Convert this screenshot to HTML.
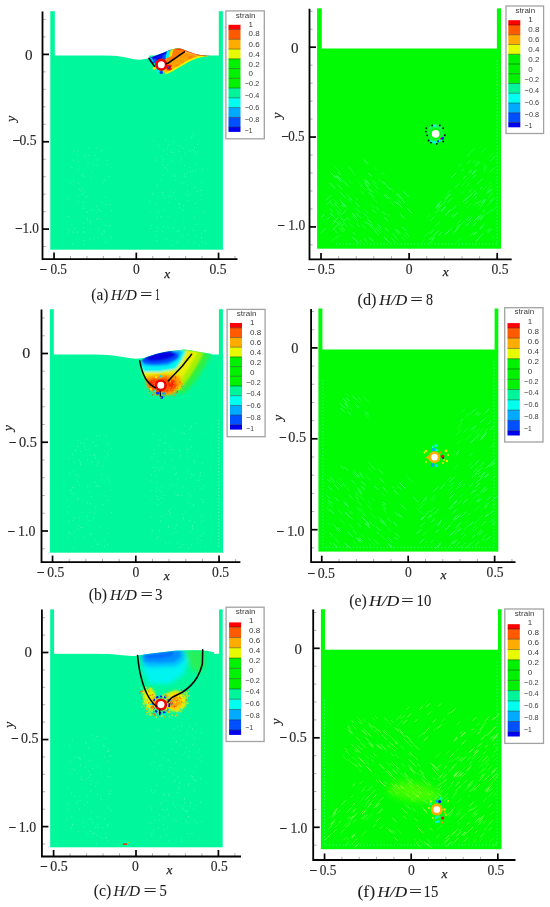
<!DOCTYPE html>
<html><head><meta charset="utf-8"><title>strain</title>
<style>
html,body{margin:0;padding:0;background:#fff;}
body{width:550px;height:907px;overflow:hidden;}
svg{display:block;}
.ax{fill:none;stroke:#000;stroke-width:1.8;}
.mj{stroke:#000;stroke-width:1.7;}
.mn{stroke:#999;stroke-width:0.8;}
.tl{font-family:"Liberation Serif",serif;font-size:13.6px;fill:#2a2a2a;stroke:#2a2a2a;stroke-width:0.15px;}
.mi{stroke-width:0.5px;}
.vl{font-family:"Liberation Serif",serif;font-style:italic;font-size:13.4px;fill:#222;stroke:#222;stroke-width:0.25px;}
.cp{font-family:"Liberation Serif",serif;font-size:16px;fill:#1c1c1c;stroke:#1c1c1c;stroke-width:0.08px;}
.cpi{font-family:"Liberation Serif",serif;font-style:italic;font-size:15px;fill:#1c1c1c;stroke:#1c1c1c;stroke-width:0.08px;}
.lb{fill:#fff;stroke:#a2a2a2;stroke-width:1.3;}
.bd{stroke:#000;stroke-opacity:0.55;stroke-width:0.7;}
.lt{font-family:"Liberation Sans",sans-serif;font-size:8px;fill:#3a3a3a;}
</style></head>
<body>
<svg width="550" height="907" viewBox="0 0 550 907">
<rect width="550" height="907" fill="#fff"/>
<rect x="50.3" y="55.5" width="172.6" height="194.2" fill="#00f79c"/>
<rect x="50.3" y="11.2" width="4.5" height="45.3" fill="#00f79c"/>
<rect x="218.8" y="11.2" width="4.1" height="45.3" fill="#00f79c"/>
<rect x="49.9" y="354.5" width="173.2" height="198.2" fill="#00f79c"/>
<rect x="49.9" y="309.2" width="3.9" height="46.3" fill="#00f79c"/>
<rect x="218.9" y="309.2" width="4" height="46.3" fill="#00f79c"/>
<rect x="50.2" y="653.8" width="172.5" height="193.5" fill="#00f79c"/>
<rect x="50.2" y="609.4" width="3.9" height="45.4" fill="#00f79c"/>
<rect x="219.1" y="609.4" width="3.6" height="45.4" fill="#00f79c"/>
<rect x="317.1" y="48.5" width="183.9" height="200.2" fill="#00fb04"/>
<rect x="317.1" y="8.4" width="4.7" height="41.1" fill="#00fb04"/>
<rect x="496.9" y="8.4" width="4.1" height="41.1" fill="#00fb04"/>
<rect x="318.4" y="349.5" width="179.9" height="202.1" fill="#00fb04"/>
<rect x="318.4" y="308.5" width="4" height="42" fill="#00fb04"/>
<rect x="494.6" y="308.5" width="3.7" height="42" fill="#00fb04"/>
<rect x="320.9" y="649.7" width="180.6" height="199.5" fill="#00fb04"/>
<rect x="320.9" y="609.2" width="4.1" height="41.5" fill="#00fb04"/>
<rect x="498" y="609.2" width="3.5" height="41.5" fill="#00fb04"/>
<g stroke="#70ffb0" stroke-width="0.8" stroke-linecap="round" fill="none"><path d="M350 223.9l3.6 3.6M346.5 194.2l3.3 3.3M397.6 199.6l3.6 3.6M381.8 172.6l2.5 2.5M390.9 202l4.5 4.5M395.2 230.6l4.1 4.1M371 204.5l3.1 3.1M362.4 225.2l3.1 3.1M352.5 172.4l2.6 2.6M395.4 237.1l3.6 3.6M370.3 189.6l2.9 2.9M348.2 218.5l2 2M374.2 167.6l1.9 1.9M360.1 240.2l2.2 2.2M358.2 182.5l3.5 3.5M335.2 167.1l4.6 4.6M343.6 222.6l3.6 3.6M399.7 197l2.9 2.9M373.1 183.9l2.6 2.6M334.9 204.2l2 2M389.9 187.8l3.3 3.3M345.1 182.8l3.5 3.5M387.3 213.5l2.6 2.6M360.8 191l3.7 3.7M403.6 234.4l3.8 3.8M347.9 199l3.3 3.3M333.6 199.7l4.6 4.6M386.5 197.1l2 2M401.7 236.9l3.6 3.6M379.2 179.6l4.7 4.7M364.3 209.4l3.3 3.3M338.2 207.7l3.1 3.1M348.7 180.2l2.3 2.3M396 194.4l4.5 4.5M372.5 198l4.5 4.5M375.4 190.1l2.7 2.7" stroke-opacity="0.35"/><path d="M338.9 227.4l4.2 4.2M338 220.8l3.3 3.3M364.6 221.6l1.8 1.8M329.7 202l4.8 4.8M356.3 213.4l4.2 4.2M336.2 209.6l4.1 4.1M343.1 180.9l4.9 4.9M385.8 238.8l3.7 3.7M360.9 186l4.5 4.5M372.3 209.3l3.7 3.7M375.8 228.4l4.3 4.3M334.2 229.6l3.2 3.2M348.6 167.1l3.8 3.8M355.5 197.9l1.8 1.8M356.9 224l2.6 2.6M364.2 238.8l2.5 2.5M352.2 237.1l4.6 4.6M375.2 231.7l3.6 3.6M337.2 213.3l2.7 2.7M329.9 208.7l3 3M354.7 238.8l4.3 4.3M364.2 180.8l2.1 2.1M342.3 202.8l2.6 2.6M377.7 227.5l2.9 2.9M355.8 208.3l4.3 4.3M334.5 203.3l3.6 3.6M365.4 180.6l4.3 4.3M392.5 233.9l4.1 4.1M365.9 184.7l2 2M375.9 186.5l2.5 2.5M335.4 175.9l4.3 4.3M391.5 238.6l4.4 4.4M384.4 195.1l3.1 3.1M372.8 228.2l3.2 3.2M376.5 207.6l2.2 2.2M370.7 223.8l2.4 2.4M385.1 194.1l4.7 4.7M405.6 232.6l3 3M372.7 180.6l3.6 3.6M339.4 199.2l3.6 3.6M363.8 213.4l4.2 4.2" stroke-opacity="0.55"/><path d="M384.3 237.4l4.1 4.1M403.6 191.8l4.7 4.7M337.9 185.2l4.1 4.1M369.4 237.6l3.4 3.4M367.9 219.5l3.1 3.1M342.2 203l4 4M341.9 227.4l2.9 2.9M365.9 180.3l3.5 3.5M367.7 188.1l3.5 3.5M377.3 224.1l3.8 3.8M382.5 211.8l2.7 2.7M402.6 200.6l2.4 2.4M340.9 217.8l2.3 2.3M369.3 192.8l4.4 4.4M394.2 201.1l2.5 2.5M330.4 213.2l4.3 4.3M341.9 205.2l2.2 2.2M395.8 229.2l4.2 4.2M400.7 214.7l3.3 3.3M337 176.9l4.8 4.8M338.2 172.5l2.5 2.5M396.9 193.3l4.8 4.8M349.7 198.1l2.1 2.1M337.3 175.8l3.7 3.7M331.2 173.2l4.3 4.3M355.6 202.8l3.6 3.6M336.9 222.4l2.8 2.8M352.8 216l4.4 4.4M353 232.2l2.2 2.2M330.3 183.6l4.6 4.6M402.3 226.9l4.1 4.1M367.5 222.7l4.7 4.7M368.5 173.2l2.8 2.8M386.6 185.8l3.7 3.7M385.3 228.1l3 3M340.4 192.6l4.8 4.8M384.5 217.4l2.9 2.9M396.9 202.2l4.9 4.9M407.1 208.2l4.8 4.8M382.7 181.3l3 3M364.1 159.8l3.8 3.8M352.3 213.2l4.1 4.1M365.3 183.5l3 3" stroke-opacity="0.75"/></g>
<g stroke="#70ffb0" stroke-width="0.8" stroke-linecap="round" fill="none"><path d="M493.6 236.1l-1.9 1.9M482.8 227l-2.6 2.6M491.3 185.5l-4.6 4.6M474 232l-4.2 4.2M486.1 169.8l-2.4 2.4M490.9 182l-2.2 2.2M424.4 239.9l-2.2 2.2M487.2 212.7l-3.3 3.3M485.9 148.1l-4.3 4.3M495.8 207.4l-4 4M472.1 170.7l-2.2 2.2M461 238.1l-4.7 4.7M478.5 160.7l-3 3M429.7 214.8l-2.5 2.5M457.1 229.8l-3.7 3.7M493.2 153.1l-4.2 4.2M475.8 159.7l-2.9 2.9M468.4 177.9l-3 3M474.6 148.4l-3.9 3.9M492 200.9l-4.4 4.4M463.8 221.5l-4.6 4.6M491.4 209.9l-4.3 4.3M464.5 183l-2.5 2.5M464.2 190.7l-2.4 2.4M450.4 190.3l-2.7 2.7M469.9 183l-3.5 3.5M482 205.7l-2.7 2.7M493.9 199l-3.4 3.4M485.4 164.3l-2.2 2.2M471.5 203.2l-4.5 4.5M486.8 186.3l-4.2 4.2M479.9 203.9l-3 3" stroke-opacity="0.35"/><path d="M467.3 201.5l-2.3 2.3M493.7 197.6l-3.2 3.2M490 228.4l-2.9 2.9M463.5 169.3l-1.8 1.8M449.1 194.5l-3.5 3.5M482.9 214.7l-4.7 4.7M482.5 178.8l-4.9 4.9M434.3 216.9l-4 4M471.1 170.2l-2.7 2.7M459.5 224.7l-2.9 2.9M476.2 192.5l-2.5 2.5M450.1 210l-4.6 4.6M453.1 214.5l-1.9 1.9M469 216.9l-2.7 2.7M480.5 215.2l-4.6 4.6M461 219.8l-3.3 3.3M472.6 188.9l-3.5 3.5M460.9 164l-2.1 2.1M450.2 210.5l-4.7 4.7M484.8 210.3l-1.8 1.8M476.4 193.4l-2.9 2.9M483.3 233.4l-4.4 4.4M439.6 209.1l-3.9 3.9M434.3 238.3l-4.9 4.9M476.7 169.9l-4.6 4.6M494.3 167.8l-4.6 4.6M480.6 200.8l-2.2 2.2M458.7 184l-4 4M476 190l-4.8 4.8M451.4 228.5l-4.7 4.7M451.8 198.3l-4.3 4.3M492.4 188.9l-4.6 4.6M479.4 162.3l-4.2 4.2M475.3 175.2l-2.6 2.6M495 156.3l-4.4 4.4M486.6 166.6l-2.9 2.9M456 205.8l-4.7 4.7M439.6 222.1l-3.8 3.8M492.4 193.3l-4 4M469.8 153.5l-2.7 2.7M434.7 236.6l-2.9 2.9M428 233.4l-2.8 2.8M491.8 228.9l-4.2 4.2M484.5 202.2l-3.5 3.5M469.9 160.8l-2.8 2.8M439.7 204l-2.8 2.8" stroke-opacity="0.55"/><path d="M470.8 221.3l-4.5 4.5M490.2 189.5l-3.6 3.6M484.2 224.2l-4.6 4.6M441.8 232.3l-2.8 2.8M484.9 199.2l-3.4 3.4M465.9 176.1l-2.4 2.4M476.4 232.1l-2.4 2.4M476.7 196.3l-1.8 1.8M432.2 236.9l-2.6 2.6M440.9 201.7l-3.8 3.8M475.5 170.6l-3.1 3.1M438.6 230.8l-4.8 4.8M482.2 187.1l-1.8 1.8M450.2 194.5l-4.7 4.7M458.8 227.4l-4.1 4.1M467.3 197.6l-4 4M476.1 222.6l-3 3M475.2 232.7l-2 2M438.6 204.9l-3 3M457.6 212.6l-4.6 4.6M477.8 201.9l-2.4 2.4M448.4 231.4l-3.5 3.5M471.7 217.3l-3.3 3.3M441.6 204.6l-4.4 4.4M485.8 199.8l-2.4 2.4M445.1 207.4l-3.3 3.3M445.3 206.6l-4.3 4.3M471.2 194.4l-4.7 4.7M455.9 173.1l-4.6 4.6M433.7 229.8l-3.3 3.3M482.8 217.1l-2.7 2.7M478.7 216.3l-4.5 4.5M478.6 238.7l-2.7 2.7M445.5 201.1l-2.1 2.1" stroke-opacity="0.75"/></g>
<g stroke="#70ffb0" stroke-width="0.8" stroke-linecap="round" fill="none"><path d="M338.7 217.1l-3 3M336.7 236.4l-4.6 4.6M340.3 235l-3.9 3.9" stroke-opacity="0.35"/><path d="M337.1 218.4l-3.7 3.7M331.7 199.7l-4.9 4.9M330.9 195.5l-4.7 4.7M325.4 228.4l-4.4 4.4M347.1 218.1l-3.5 3.5" stroke-opacity="0.55"/><path d="M330.1 216.8l-2.9 2.9M343.7 223.9l-2 2M337.5 225.1l-4.6 4.6M346.1 210.2l-4.1 4.1M324.3 214.4l-2.6 2.6M335.6 221.2l-2.7 2.7" stroke-opacity="0.75"/></g>
<g stroke="#70ffb0" stroke-width="0.8" stroke-linecap="round" fill="none"><path d="M346 393.6l3 3M355.1 398.2l4.9 4.9M345.8 406.8l2.6 2.6M364.1 397.5l4.8 4.8M364.4 414l4.3 4.3M343 399l4.4 4.4M347.9 406.4l4.6 4.6M358.3 397.7l2.8 2.8" stroke-opacity="0.35"/><path d="M343 398.4l4.5 4.5M344.9 403.4l2.7 2.7" stroke-opacity="0.55"/><path d="M340.8 408.2l3.9 3.9M346.6 398.1l2.7 2.7M348 411.8l2.8 2.8M340.1 403.4l4.9 4.9M355.7 404.7l2.9 2.9M345.1 403.2l2.4 2.4M352.5 395.9l3.2 3.2M365.5 411.9l2.7 2.7" stroke-opacity="0.75"/></g>
<g stroke="#70ffb0" stroke-width="0.8" stroke-linecap="round" fill="none"><path d="M367.5 505.4l4.4 4.4M382.5 493.7l2.1 2.1M354 470.9l4.9 4.9M339 478.1l4.9 4.9M365.6 475.2l4.8 4.8M350.5 510.9l1.8 1.8M370.9 513.2l4.8 4.8M346.8 488.1l2.3 2.3M327.9 502.2l4.4 4.4M335 537.6l3.1 3.1M335.2 539.4l3.7 3.7M359.3 507.5l3.4 3.4M372.4 542.9l2.8 2.8M355.4 491.9l2.8 2.8M362.1 535.3l2.6 2.6M338.6 510.6l3.8 3.8M340.1 519.1l3.8 3.8M390 545.1l2.3 2.3M381.7 519.5l3.5 3.5M347.3 509.5l4.8 4.8M382.5 509l3.1 3.1M374.1 486.6l2.6 2.6M369 543.4l2.5 2.5M362.2 481.3l3.3 3.3M381 535.4l4.6 4.6M349.3 524.2l3.6 3.6M326.2 507.6l3.9 3.9M368.1 501.3l2.8 2.8M360.7 496.9l3.5 3.5M330.2 479.6l4.4 4.4M368.4 462.2l4.1 4.1M372 498.5l2.4 2.4M352.6 474l3.7 3.7M357.4 490.5l3.9 3.9M355.9 494.4l2.2 2.2M368 467.4l3.9 3.9M328.9 523.4l1.9 1.9" stroke-opacity="0.35"/><path d="M368.5 538.4l2.1 2.1M327.5 479.3l2.7 2.7M388.5 537.5l2.7 2.7M353.3 541.2l2.6 2.6M371.8 466.2l2.9 2.9M349.1 495l3.5 3.5M374 539.6l4.8 4.8M359.5 537.5l2.6 2.6M332.8 524.2l4.3 4.3M329.3 542.3l2.1 2.1M359.7 492.1l2.2 2.2M366.7 522.6l2.8 2.8M352.1 480.6l3.7 3.7M353.6 472.6l4.5 4.5M357.6 523.1l3.3 3.3M358.9 490.1l2.1 2.1M361.1 481.6l3.9 3.9M344.5 503.1l3.9 3.9M348.2 515.3l4.1 4.1M359.7 474.1l4.4 4.4M344.2 466.8l3.9 3.9M330.6 477.5l4.1 4.1M326.7 495.5l2.7 2.7M352.9 530l3.8 3.8M356.4 474l3 3M387.4 543.4l3.7 3.7M379.1 517.4l3 3M357.6 501.2l4 4M387.7 538.8l3.7 3.7M346.8 545l3.3 3.3M342.6 483.9l2.3 2.3M374.9 486.1l3.5 3.5M366.3 524l1.9 1.9M383.9 508l1.8 1.8M357.3 538.9l3 3M369.4 521.6l4.6 4.6M379.9 520.2l3.1 3.1M356.9 507.5l3.4 3.4M378.5 469.3l4.6 4.6M361.5 516.7l4.1 4.1M340.9 466.2l2.5 2.5M359.8 472.2l2.5 2.5M381.7 504l3.2 3.2" stroke-opacity="0.55"/><path d="M365.7 523.6l4.3 4.3M337.1 529.4l2.2 2.2M344.8 542.9l3.5 3.5M346.4 513l1.8 1.8M357.1 487.5l3.3 3.3M336.9 481.7l4.8 4.8M356.2 497.3l1.9 1.9M357 538.5l2.1 2.1M376.3 526.7l4 4M328.4 486.5l3.5 3.5M343.9 501.7l4.2 4.2M348.1 532.2l4.5 4.5M337.2 527.3l3.6 3.6M333.4 543.6l3.3 3.3M328.8 500.5l3 3M361.8 486.6l2.7 2.7M363.1 513.8l2.2 2.2M377.1 532.2l1.8 1.8M345.1 512.7l3.3 3.3M363.7 518.9l4.8 4.8M329.9 533.2l2.5 2.5M329.6 509.4l4.1 4.1M335.2 497.7l2.8 2.8M335.1 485.6l3.6 3.6M358.6 538.5l3.5 3.5M382.7 501.9l2.8 2.8" stroke-opacity="0.75"/></g>
<g stroke="#70ffb0" stroke-width="0.8" stroke-linecap="round" fill="none"><path d="M486.9 538.6l-3.5 3.5M481.2 529.6l-3.2 3.2M478.3 520.1l-4.3 4.3M490.5 501.6l-4.4 4.4M440.1 522.3l-3 3M485.6 521.1l-1.8 1.8M477.9 493.8l-4.9 4.9M453 485.9l-4.4 4.4M479.3 475.9l-1.8 1.8M495.5 503l-3.6 3.6M430.1 515l-2.1 2.1M423.5 501.1l-4.1 4.1M467.5 521.2l-2.2 2.2M454.9 519.5l-4.3 4.3M482.6 515.2l-3.5 3.5M461.8 500.2l-3.3 3.3M495.4 476l-4 4M463 494.2l-2.5 2.5M481.9 492.1l-3.9 3.9M432.1 514.3l-3 3M472 542.8l-2.1 2.1M453.7 542.4l-4 4M452.5 532.6l-1.9 1.9M427.2 541l-1.8 1.8M479.2 506.4l-4.3 4.3M468.3 525.7l-4.7 4.7M435 495.3l-4.2 4.2M465.5 534.7l-3.8 3.8M459.1 527.2l-4.2 4.2M426.7 531.5l-4.2 4.2M475.2 539.7l-2.3 2.3M444.6 483.7l-2 2M446.1 523.2l-4.5 4.5M477.7 527.3l-4.8 4.8M426.9 499.4l-1.8 1.8M471.2 502.3l-2 2M450.5 477.3l-3.5 3.5M487.4 502.9l-3.5 3.5M436.6 522.8l-3.7 3.7M434.9 498.5l-2.5 2.5M459.3 529.9l-4.9 4.9M424.2 504l-4.5 4.5M476.4 525.4l-4.6 4.6" stroke-opacity="0.35"/><path d="M480.7 531l-3.3 3.3M465.2 543l-4.1 4.1M435 507.4l-4.3 4.3M470.1 513.4l-2 2M489 514l-2.7 2.7M460.6 484.9l-3.9 3.9M481.9 467.8l-3.7 3.7M454.1 540.5l-2.6 2.6M455.7 502l-2.2 2.2M457.9 514.9l-3.3 3.3M471.1 543.1l-4.7 4.7M473.4 482.9l-3.8 3.8M479.6 469.6l-4.1 4.1M456.9 501.3l-2.1 2.1M493.3 519.3l-2.5 2.5M483.4 475.9l-4.7 4.7M464 532.2l-2.7 2.7M441 541.8l-2 2M441.1 543.5l-3.1 3.1M478.9 541.7l-4 4M488.1 473.6l-3.9 3.9M496.5 496.6l-4 4M480.5 478.6l-3.7 3.7M493.4 462.1l-4.7 4.7M464.6 484.4l-2.2 2.2M453.2 504.3l-4.4 4.4M438.4 486.8l-1.9 1.9M484 538.2l-2.3 2.3M486.4 534.1l-2.8 2.8M459.7 542.3l-3.4 3.4M484.1 472.7l-3.9 3.9M453.5 482.2l-3.5 3.5M424.5 522.6l-4 4M482.6 531.4l-3.6 3.6M433.3 540.3l-2.5 2.5M457.4 515.2l-4.4 4.4M459.6 515.6l-2.9 2.9M477.8 468l-4.2 4.2M452.9 506.7l-2.3 2.3M485.7 521.6l-4.1 4.1M481 499.1l-2.6 2.6M469.1 525.2l-1.8 1.8M480.2 472.6l-2.1 2.1" stroke-opacity="0.55"/><path d="M479.5 483.3l-4.3 4.3M492.5 511.4l-2.4 2.4M459.6 515.4l-4 4M494.6 463l-2.9 2.9M452.2 491.7l-2.1 2.1M486.8 506.1l-2.1 2.1M454.6 531.3l-4.3 4.3M434.4 518.9l-3.2 3.2M438.5 529.8l-2.4 2.4M491 496.6l-3.3 3.3M476.4 473.4l-4.4 4.4M421.3 529.2l-4.3 4.3M431.7 515l-2.6 2.6M479.3 499.1l-2.6 2.6M475.8 490l-1.9 1.9M472.6 522.4l-2.2 2.2M438.6 509.1l-4.3 4.3M450 525.1l-4.5 4.5M454.4 493.7l-4.9 4.9M484.7 472.5l-2.5 2.5M424.3 516.2l-3.5 3.5M461 528.4l-2.5 2.5M474.9 535.2l-2.3 2.3M423.9 539l-4.2 4.2M454.4 477.1l-4.5 4.5M461 522.5l-4.9 4.9M486.8 488.8l-3.4 3.4M456.6 500.6l-2.6 2.6M462 481l-3.9 3.9M428.9 511.3l-3.3 3.3M444.4 484.8l-3.6 3.6M490.3 536.5l-2.8 2.8M465.8 512.1l-4.9 4.9M456.8 539.9l-3.7 3.7M467.5 499l-4.3 4.3M424.4 516.6l-3.3 3.3M440.6 522.5l-3 3M442 519.9l-2.6 2.6M494.5 522.8l-1.9 1.9M439.7 544.3l-4.9 4.9M485.3 487.3l-4.5 4.5M487.6 514.4l-2.2 2.2M426.6 497.2l-3.6 3.6M488.3 474.6l-2.7 2.7M474.6 490.2l-3.1 3.1M436.3 488.6l-3.1 3.1M456.2 509.7l-3.2 3.2" stroke-opacity="0.75"/></g>
<g stroke="#70ffb0" stroke-width="0.8" stroke-linecap="round" fill="none"><path d="M469.5 412.9l-3.8 3.8M464.9 409l-3.1 3.1M460.7 430.4l-4.4 4.4M493.8 444.2l-3.6 3.6M479.9 428.3l-4.9 4.9M461.8 422.9l-4.4 4.4M460.2 440.9l-2.4 2.4M477.3 408.1l-2 2M479.2 433.1l-2.7 2.7M470.8 435.1l-4.3 4.3M468 428.1l-3.9 3.9M458.4 453.8l-2.2 2.2M472.2 462.9l-3.3 3.3M482.9 428.5l-2.5 2.5M488.7 415.5l-2.7 2.7M473.1 427.2l-3.6 3.6M487.6 429l-3 3M475 429.8l-2.4 2.4M474 410.3l-3.7 3.7M459.9 427.7l-1.8 1.8M457.6 465.1l-3.4 3.4M476.7 462.6l-2.9 2.9" stroke-opacity="0.35"/><path d="M476.5 437.4l-4.2 4.2M472.4 453.1l-2.3 2.3M493.5 426.2l-3.7 3.7M474.8 438.4l-4.6 4.6M490.2 421.6l-3.1 3.1M463.1 418.8l-2.5 2.5M480.2 413.4l-2.6 2.6M479.6 434.8l-2.1 2.1M474.9 409.5l-2.1 2.1M484 462.3l-4.2 4.2M495.2 459.1l-4 4" stroke-opacity="0.55"/><path d="M488.8 409.3l-3.6 3.6M478.3 412.1l-3.1 3.1M484.1 419.1l-3.6 3.6M475.9 425.7l-3.2 3.2M472.5 466.5l-2 2M478.7 460.5l-2.8 2.8M489.4 464.8l-3.3 3.3M458.9 451.1l-2.8 2.8M483.8 436.6l-3.7 3.7M486.1 432.4l-4.5 4.5M485.9 434.1l-4 4" stroke-opacity="0.75"/></g>
<g stroke="#70ffb0" stroke-width="0.8" stroke-linecap="round" fill="none"><path d="M382.7 487.7l4.9 4.9M396.3 533.6l2.1 2.1M416.8 508.1l2.4 2.4M419.7 511.1l2.9 2.9M394.7 532.8l4.6 4.6M407.2 476.7l4.7 4.7M387.7 528.4l2.7 2.7" stroke-opacity="0.35"/><path d="M387.8 518.5l3.2 3.2M395.3 512.4l4.6 4.6M383.1 487.4l1.8 1.8M392.4 486.2l1.9 1.9M398.1 486.5l3.1 3.1" stroke-opacity="0.55"/><path d="M389.1 544l2.2 2.2M379.8 478.5l4.3 4.3M401.1 504.7l4.7 4.7M393.6 522.2l3.4 3.4M401.1 484l4.3 4.3M399.6 482.7l4.8 4.8M398.9 514l3.2 3.2M395 537.4l2.2 2.2M382.4 521.8l4 4M394.1 490.3l3.9 3.9M413.6 497.5l4.4 4.4" stroke-opacity="0.75"/></g>
<g stroke="#c0ff80" stroke-width="0.8" stroke-linecap="round" fill="none"><path d="M343.3 756.4l4.6 4.6M362.3 730.7l4.3 4.3M390.8 763.5l3.5 3.5M383 747.1l3.8 3.8M414 745.4l3.7 3.7M359.5 722.1l2.2 2.2M370.8 755.4l2.7 2.7M415.3 745.3l4.6 4.6M386.9 762.5l3 3M395.8 765.8l2.6 2.6M350 731.8l2.2 2.2M413.2 774.2l1.9 1.9M421.3 778l3.8 3.8M401.7 773.5l3.1 3.1M395 754.1l4 4M407.7 752.9l2.2 2.2M392.7 744.5l3.8 3.8M431.1 791.2l4.7 4.7M401.4 763.3l3.2 3.2M347.8 724.7l2.3 2.3M429.8 762.6l4.3 4.3M388.5 790.6l3.9 3.9M417.9 773.2l2.1 2.1M374.4 730.3l4.9 4.9M410.7 741.2l3 3M413.5 770.5l3.2 3.2M387.8 722.1l2.8 2.8M392.3 778.9l2 2M419.3 770.4l3.1 3.1M373.1 718l2.6 2.6M435 798.5l4.9 4.9M352.7 757.1l4 4M348.5 759.4l4 4M410.3 782l2.3 2.3M352.6 763l2.7 2.7M346.8 729.2l4.4 4.4M427.9 782.7l3.2 3.2M357.8 717.8l4.7 4.7M358.8 769.2l2.6 2.6M437.7 778.5l2.4 2.4M400.9 745.9l3.2 3.2M365.6 760.9l3.8 3.8M376 744.9l2.7 2.7M368.2 724.8l4.4 4.4M357.4 720.3l3.4 3.4M388.8 734.7l2.9 2.9M397 770.1l3.8 3.8M365.1 754.9l3.5 3.5M406 778.8l4.5 4.5M363.2 719.5l2.5 2.5M428.2 782.1l2.6 2.6M405.2 776.1l2.2 2.2" stroke-opacity="0.35"/><path d="M410.4 778.6l2.3 2.3M408.1 783.1l4.6 4.6M416.9 795.2l3 3M428.2 792.8l1.9 1.9M433.3 778l1.9 1.9M396.6 767.3l2.2 2.2M392.6 762.6l4 4M384.6 730.3l3.2 3.2M371.1 759.2l1.9 1.9M380.8 744.4l4.5 4.5M356.2 737l4 4M418.8 790.7l2.4 2.4M437.6 788.4l2.1 2.1M401.5 731.5l2 2M360.3 742.4l4.9 4.9M346.3 751.3l3.1 3.1M389.5 742l4.4 4.4M384.5 717.9l2.7 2.7M375.3 716.4l2.1 2.1M429.2 798.7l2 2M362 730.4l4.9 4.9M391.9 783.9l3.1 3.1M409.3 744.1l2.6 2.6M376.3 780.5l2.2 2.2M363.6 728.9l3.9 3.9M377.2 745.1l3 3M352.6 725.6l3.6 3.6M398 728.4l4.4 4.4M357 744.9l4.8 4.8M366.7 766.6l4.8 4.8M382 734.9l4.8 4.8M417.4 795.3l2.1 2.1M384.3 781.7l1.9 1.9M421.7 774l2.5 2.5M377.2 744.4l4.9 4.9M392.6 738.4l4.5 4.5M404.2 739.2l3.9 3.9M433 766.2l4.9 4.9M412.6 791.8l4.8 4.8M373.8 726.4l4 4M409.5 740l3.3 3.3M401.8 786.2l2 2M417.1 791.2l2.7 2.7M413.9 756.1l3.5 3.5M435.2 772.2l3.3 3.3M351.4 744.2l3.2 3.2M408.9 766.8l3.8 3.8M408.9 765.1l3.3 3.3M392.2 788.3l4.8 4.8M344.9 748.3l1.8 1.8M407.7 778.9l4.4 4.4M419.8 770.1l3.5 3.5M424 781.2l4 4" stroke-opacity="0.55"/><path d="M387.9 745.6l2.2 2.2M424.9 800.8l1.8 1.8M414.1 764.6l1.9 1.9M358.3 756.9l4.1 4.1M378.5 730.3l2.4 2.4M417.5 785.4l3.4 3.4M417.9 763.7l2 2M349.3 729.9l3 3M355.1 749.9l2.2 2.2M406.2 735.7l3.7 3.7M391 720.3l1.9 1.9M437.6 792.9l3.5 3.5M392.9 769.5l4.3 4.3M409.8 752.5l3.3 3.3M351.9 720.7l1.8 1.8M366.6 766.4l4.8 4.8M394.7 727.5l4 4M434 765.4l4.8 4.8M395.6 742.3l1.8 1.8M383 731.1l4.1 4.1M391.8 754.2l1.8 1.8M379.7 764.3l4.5 4.5M369.3 723.8l3.2 3.2M369.7 742.2l3.6 3.6M368.1 733.4l3.3 3.3M360.3 759l4.7 4.7M381.9 782.9l3.2 3.2M347.9 727l2.2 2.2M410.4 769.1l4.3 4.3M378.9 780.1l4.6 4.6M356.2 748.6l4.1 4.1M423.4 776.6l2.9 2.9M411.4 798.7l2 2M358.2 763.7l3.1 3.1M406.5 794l2.9 2.9M392.8 748.9l2.3 2.3M373.4 753.2l2.7 2.7M400.7 732.5l4 4M355.1 764.5l2.4 2.4M388.3 771.1l3.3 3.3M408.9 759.4l4.8 4.8M391.8 775.8l3.2 3.2M365.6 737.9l3 3M400.5 785.7l3 3M404.6 773.3l3.5 3.5M432.8 768.9l2.6 2.6M395.3 784.6l3.9 3.9M386.6 771.7l4.1 4.1M368.9 743.2l4.3 4.3M431.8 763.6l2.3 2.3" stroke-opacity="0.75"/></g>
<g stroke="#c0ff80" stroke-width="0.8" stroke-linecap="round" fill="none"><path d="M470.1 767.7l-3.6 3.6M462.3 776.5l-2.7 2.7M481.5 758.8l-3.1 3.1M451.9 759l-3.2 3.2M495.9 793.2l-1.9 1.9M493.1 781.8l-4.2 4.2M452.6 784l-3.2 3.2M475.4 753.8l-3.4 3.4M486.5 798.4l-3.5 3.5M484.2 768.7l-4.9 4.9M495 768.5l-3.1 3.1M477.3 729.5l-3.4 3.4M449.8 750.6l-3.9 3.9M487.1 827.3l-3.2 3.2M469.5 795.3l-1.8 1.8M472.5 783.3l-4.9 4.9M497.7 748.3l-3.9 3.9M443.8 789.7l-3.1 3.1M445.5 813.3l-4.3 4.3M454.9 758.7l-3.1 3.1M479.8 817.8l-3.1 3.1M496.7 842.9l-4.1 4.1M438.8 815.6l-4.7 4.7M482.6 838.5l-2.8 2.8M489.4 763.4l-3.7 3.7M495.5 779.2l-3 3M469.2 822.7l-2.7 2.7M457.5 813.3l-2 2M494 755l-1.9 1.9M474.5 807.2l-3.5 3.5M476.1 839.7l-3 3M492 788.8l-2.7 2.7M460 822.6l-2.3 2.3M456.5 793.3l-4.9 4.9M482.1 727.7l-2.2 2.2M461 798.8l-3.8 3.8M456.6 772.1l-2.8 2.8M442 825.1l-4.4 4.4M489.5 760.2l-3.9 3.9M457.4 773.6l-2.6 2.6M485.3 768.2l-2.3 2.3M483.2 763.6l-4 4M440.3 798.4l-3.2 3.2M465.9 813.7l-4.6 4.6M458.4 748.9l-2.3 2.3M492.2 765.6l-4.9 4.9M469.2 786.2l-4.6 4.6M458.5 774.7l-2.5 2.5M468.8 822.7l-1.9 1.9M459.3 812.9l-2.3 2.3M470.3 784.2l-2.8 2.8M460.9 812.7l-4.2 4.2M493.4 791.7l-4.9 4.9M489.3 758.1l-4.4 4.4M491.7 787.7l-4.7 4.7M465.7 766.8l-3.4 3.4M484.2 832.8l-2.2 2.2M493.5 811.5l-3.2 3.2M493.2 838.5l-3.7 3.7M471.6 765l-3.3 3.3M475.9 813l-3.8 3.8M461.3 808.9l-3.4 3.4M439.6 834.6l-3.7 3.7M443.1 782l-3.5 3.5M496 758.5l-2 2M475.9 755.5l-3.7 3.7M448.8 788.1l-3.8 3.8" stroke-opacity="0.35"/><path d="M495.9 743l-1.9 1.9M483.5 774.9l-2.9 2.9M445.9 784.1l-1.9 1.9M465.4 732.3l-3.9 3.9M440.5 783.1l-2.9 2.9M464.4 732.6l-3.2 3.2M498.1 775.4l-3.2 3.2M483.3 834.2l-2.9 2.9M466.9 780.1l-4.1 4.1M456.3 763.6l-4.3 4.3M482.4 820.8l-4.1 4.1M475.8 785.1l-2.6 2.6M438.7 816l-1.8 1.8M454.5 807.7l-3.3 3.3M456.3 791.9l-2.5 2.5M475 788.5l-1.9 1.9M483.9 725.6l-4.3 4.3M485.5 722.2l-3.2 3.2M461.4 773.5l-3.2 3.2M498.3 733.3l-4.4 4.4M465.1 732.4l-4.3 4.3M496.6 736.7l-4.7 4.7M452.4 813l-3.5 3.5M492.4 820.5l-4.2 4.2M479.4 723.1l-2 2M477.6 809.9l-4.1 4.1M494.8 770.9l-3.9 3.9M459.3 756.4l-2.8 2.8M462 828.5l-2 2M461.5 771.7l-3.6 3.6M478.5 750.1l-3.9 3.9M443 773.5l-3.6 3.6M485.9 751.4l-2.5 2.5M497.1 773.3l-4.2 4.2M453.7 766.9l-4.5 4.5M471 750.5l-1.9 1.9M476.3 806.3l-3.3 3.3M442.3 775.2l-3 3M447.6 797.6l-2.3 2.3M491.8 827.4l-2.8 2.8M485.1 773.4l-3 3M479.5 756.3l-2.7 2.7M448.8 844l-2.7 2.7M456.8 772.7l-3.1 3.1M462.1 817.2l-4.7 4.7M470.1 757.6l-3.2 3.2M447.7 793.6l-3.5 3.5M486 820.7l-2.5 2.5" stroke-opacity="0.55"/><path d="M471.7 761.8l-2.7 2.7M441.5 786.5l-3 3M494 776.1l-4.6 4.6M466.9 832.3l-3.4 3.4M491.7 804l-3.1 3.1M473.4 802.2l-3.8 3.8M496.7 768.1l-4.5 4.5M478.3 750.9l-4.8 4.8M473.1 827l-4.5 4.5M474.1 747.9l-4 4M465 832.1l-3.1 3.1M488.2 789.7l-2 2M471.3 808.9l-2.7 2.7M454 753.1l-4.1 4.1M460.7 785.9l-4.9 4.9M488.5 787.2l-3.4 3.4M499.3 713.8l-4.7 4.7M494.3 735.2l-3.8 3.8M461 831.6l-4.6 4.6M494.8 717.5l-2.3 2.3M470.7 766.7l-3.4 3.4M495.4 726.8l-2.1 2.1M455 831.7l-3.7 3.7M438.1 795.7l-3.3 3.3M497.2 735l-4.5 4.5M472.7 788.8l-3.1 3.1M477.1 813.7l-2.3 2.3M459.1 771.2l-4.8 4.8M461.9 731.6l-2 2M479.4 817.9l-4.3 4.3M449.1 835.3l-3.4 3.4M463.6 772.6l-3.2 3.2M440.6 764.8l-2.3 2.3M464.9 773.9l-1.9 1.9M465.6 756.9l-4.8 4.8M457.8 829l-4.8 4.8M494.5 727.8l-3.2 3.2M453.4 781.8l-1.9 1.9M484.3 815.1l-4.7 4.7M446.6 774.2l-3.6 3.6M446.3 779.4l-3.3 3.3M458.3 838.1l-4.9 4.9M480.7 730.9l-3.7 3.7M457.2 738.4l-2.8 2.8M467.3 838.2l-3.4 3.4M452.6 810.1l-4.7 4.7M482.4 777.6l-2.9 2.9M472.6 781l-4.4 4.4M462 757.6l-3.1 3.1M477 831l-2.1 2.1M448.9 838.5l-4.6 4.6M489.2 775.6l-4.6 4.6M487.2 745.4l-2 2M491.9 785.1l-4 4M446.6 766.2l-2.5 2.5M482.7 818.1l-4.3 4.3M489 717.1l-3.9 3.9M485.4 735.3l-4.1 4.1M466 740.2l-4.6 4.6M487.1 756.7l-4.6 4.6M475.8 717.6l-3.2 3.2M459.6 781.7l-4.1 4.1M476.8 750l-2.2 2.2M479.5 784.5l-4.8 4.8M491.4 731l-4.6 4.6M473.8 728.3l-1.9 1.9M451.6 841.9l-2 2M481.7 742.9l-4.3 4.3M456.4 774.8l-2.7 2.7" stroke-opacity="0.75"/></g>
<g stroke="#c0ff80" stroke-width="0.8" stroke-linecap="round" fill="none"><path d="M330.8 816.1l-2.1 2.1M349 841.5l-4.2 4.2M366.2 786.1l-3.1 3.1M351.4 820l-2.8 2.8M379.8 818.3l-3.1 3.1M358.3 812l-4.7 4.7M365.4 796.2l-4.7 4.7M368.5 817.5l-2.2 2.2M366.7 804.1l-1.8 1.8M346.4 823.6l-2.4 2.4M380.8 799.6l-3.9 3.9M366.2 831l-4.2 4.2M348.9 838.2l-1.9 1.9M376.4 794.6l-2.2 2.2M340.5 810.2l-2.3 2.3M372 814.4l-1.9 1.9" stroke-opacity="0.35"/><path d="M356.1 814.6l-4.7 4.7M356.3 819.3l-2.4 2.4M375.1 824.8l-1.9 1.9M380.3 817.5l-4.2 4.2M369.6 799.6l-2.5 2.5M382.3 808.6l-4.9 4.9M336.6 825.8l-1.8 1.8M375.2 790l-3.5 3.5M359.1 842.9l-4.2 4.2M346.6 837.2l-2.4 2.4M362 781.7l-2.2 2.2M344.1 829.6l-2.8 2.8M340.8 821.1l-1.8 1.8M351.6 807.5l-4.8 4.8M365.8 814.6l-4 4M352.4 795.5l-1.9 1.9M350.1 816.7l-2.2 2.2M382.1 809.9l-2.9 2.9M366.3 809.8l-4.1 4.1M372.4 786.1l-4.8 4.8M350.4 822.9l-4.6 4.6M335 819.7l-4.9 4.9M336.4 829.5l-3.9 3.9M373.3 800.2l-4.7 4.7M380 803.6l-3.6 3.6M383.3 797.1l-2.3 2.3M357.1 838.9l-4.4 4.4M332.2 825l-3.6 3.6M366.9 815.3l-3.8 3.8M336.1 813.4l-3.8 3.8M382.2 826.6l-2.2 2.2" stroke-opacity="0.55"/><path d="M354.9 835.2l-2.4 2.4M364 789.5l-1.8 1.8M354.8 833.9l-3.4 3.4M334.4 821.7l-3.1 3.1M378.7 803.1l-4.8 4.8M353.1 816.2l-2.4 2.4M330.5 834.6l-4.9 4.9M375.8 795.3l-2.4 2.4M335.5 812.5l-2.6 2.6M370.4 794.8l-4.4 4.4M337.1 809.7l-3.8 3.8M337.3 808.3l-2.8 2.8M354.8 803.3l-1.9 1.9M371.6 803.6l-4.1 4.1M355.8 808.8l-3.5 3.5M363.5 810.5l-2.5 2.5M365.1 811.2l-2.8 2.8M354.7 784l-1.9 1.9M345.5 800.8l-4 4M357.7 844.7l-2.3 2.3" stroke-opacity="0.75"/></g>
<g stroke="#c0ff80" stroke-width="0.8" stroke-linecap="round" fill="none"><path d="M427.3 737.5l-3.9 3.9M444.9 718.7l-3.1 3.1M437.2 727.1l-3 3M402.5 720.6l-4.5 4.5M440.5 752.8l-4.8 4.8M422.8 733l-4.6 4.6" stroke-opacity="0.35"/><path d="M460 721.8l-2.8 2.8M430.7 711.8l-3.1 3.1M450 712.2l-2 2M404.4 715.3l-3.3 3.3M401.1 715.2l-4.5 4.5M408.8 707.1l-2.4 2.4" stroke-opacity="0.55"/><path d="M427.6 737l-3.2 3.2M417.5 719.2l-2.4 2.4M422.4 706.7l-2.8 2.8M430 703.2l-3.7 3.7M440.7 703.8l-2.4 2.4M406.7 720.1l-3.4 3.4M425.7 731.8l-2.3 2.3M455.3 708.6l-4.3 4.3M457 737.1l-2.5 2.5M429.1 727.9l-2.9 2.9M441.6 724.6l-4.3 4.3M411.2 713.3l-3.9 3.9M435.8 719.4l-2.9 2.9" stroke-opacity="0.75"/></g>
<g stroke="#c0ff80" stroke-width="0.8" stroke-linecap="round" fill="none"><path d="M397.3 829.5l3.9 3.9M405.1 804.4l3.3 3.3M414.1 838.8l4 4M419.1 839.5l4 4M415.9 825l2.3 2.3M393 830.4l2.1 2.1" stroke-opacity="0.35"/><path d="M412.9 808.5l2.7 2.7M389.5 829l4.9 4.9M427.4 839.6l2.6 2.6M423.8 841.5l4.3 4.3M414.6 818.3l2.9 2.9M403.3 815.8l2.6 2.6M386.6 827.6l4.8 4.8M430 828.3l2.3 2.3M423.4 809.5l4.2 4.2" stroke-opacity="0.55"/><path d="M418.6 828.4l4.5 4.5M402.3 808.5l4.6 4.6M418.7 828.7l2.9 2.9M426.9 843.4l4 4M417 843.8l3.2 3.2M408.2 806.9l2.4 2.4M431 808.7l3.4 3.4M394.7 837.8l3 3M422.9 807.9l3.7 3.7M392.4 817.9l3.7 3.7" stroke-opacity="0.75"/></g>
<path d="M101.5 150.1h0.01M78.3 196.4h0.01M68.4 216.6h0.01M98.5 228.9h0.01M83.8 244.3h0.01M107.1 164.4h0.01M74.7 229h0.01M98 237.7h0.01M68.6 198.7h0.01M84.2 192.1h0.01M98.6 209.6h0.01M72.7 232h0.01M96.3 219.4h0.01M93.3 210.2h0.01M110 225.6h0.01M87.9 162.8h0.01M77.2 155.2h0.01M89.6 148.4h0.01M88.9 155.3h0.01M104.5 179.9h0.01M104.2 232h0.01M105.4 242.2h0.01M87.8 212h0.01M93.9 238.2h0.01M83.8 208.5h0.01M101.4 211.5h0.01M109 176.5h0.01M78.3 161.2h0.01M83.1 202.5h0.01M83.2 227.8h0.01M74.1 232.8h0.01M103.2 182.2h0.01M80.7 190.9h0.01M72.7 244h0.01M73.1 160.3h0.01M91.7 209.7h0.01M78.3 150.7h0.01M97.5 165.1h0.01M82.5 175.1h0.01M90.9 178h0.01M78.5 183h0.01M100.9 219.3h0.01M109.1 226h0.01M85.9 154h0.01M91.2 171.9h0.01M111.3 210.7h0.01M78 201.5h0.01M110.7 236.5h0.01M97 212.7h0.01M102.3 234.9h0.01M70.4 183h0.01M71.9 167.6h0.01M83.4 194.4h0.01M86.4 212.4h0.01M93.8 164.8h0.01M83.7 232.3h0.01M87 218.6h0.01M111.2 238.3h0.01M84.7 240.7h0.01M71.9 224.3h0.01M83.2 176.4h0.01M89.5 239h0.01M90.5 220.7h0.01M77.7 232.8h0.01M73.3 180.7h0.01M107 160.5h0.01M104.1 230.8h0.01M83.9 223.8h0.01M99.4 210.9h0.01M105.4 197.1h0.01M96.7 206.6h0.01M110.7 204.6h0.01M67.8 233.6h0.01M83.2 208.2h0.01M90.3 229.3h0.01M83.8 206.1h0.01M86.9 196.5h0.01M87.4 219.6h0.01M84.4 156.7h0.01M96.2 147.7h0.01M101.8 233.7h0.01M81.8 194.5h0.01M102 202.3h0.01M106.2 204.6h0.01M78 170h0.01M79.7 189.3h0.01M74.2 151.3h0.01M97.3 159.7h0.01M98.3 218.6h0.01M82.5 189h0.01M83.5 231.7h0.01M105.2 225.4h0.01M68.3 230h0.01M95.2 155.7h0.01M85.9 197.3h0.01M83.2 215.8h0.01M90.3 222.6h0.01M111.8 166.9h0.01M77.1 232h0.01" stroke="#d0fff0" stroke-width="1" stroke-linecap="round" stroke-opacity="0.35" fill="none"/>
<path d="M193.5 150.6h0.01M163.6 195.1h0.01M187.7 234.4h0.01M171.8 161.1h0.01M168.2 216.1h0.01M195.2 151.4h0.01M190.4 171.7h0.01M161 216.6h0.01M162.7 192.7h0.01M163.2 161.3h0.01M157.6 227.9h0.01M194.3 217.3h0.01M186.6 194.1h0.01M179.1 203.8h0.01M173.4 141.6h0.01M164.5 167.6h0.01M184.3 227.8h0.01M175.1 176.2h0.01M168.9 196.9h0.01M187.9 191h0.01M163.4 226.5h0.01M183.6 205.7h0.01M166.4 168.2h0.01M183.2 210.3h0.01M150.3 211.6h0.01M175.3 180.2h0.01M178.5 151h0.01M180.5 146h0.01M188.2 241.8h0.01M184.4 174.3h0.01M195.4 235.6h0.01M195.4 203.5h0.01M167.9 164.9h0.01M163.6 210.2h0.01M166.1 239.2h0.01M182.9 148.2h0.01M187.8 200.6h0.01M152.6 194.1h0.01M192.8 136.1h0.01M205.2 231h0.01M171.5 245.3h0.01M149.7 201h0.01M163 192.1h0.01M162.8 165h0.01M155.3 160.7h0.01M173.9 152.8h0.01M150.1 228.5h0.01M176.9 242.2h0.01M179.4 207.7h0.01M171.3 149.9h0.01M157.3 185h0.01M195.6 164.7h0.01M165.6 140.2h0.01M205.7 243.9h0.01M189 195.4h0.01M156.1 231.4h0.01M179.4 204.6h0.01M163.9 150.3h0.01M167.8 148.6h0.01M183.8 182.2h0.01M157 217.1h0.01M196.9 208h0.01M168.1 227.9h0.01M196.6 153.8h0.01M189.7 151.4h0.01M173.2 227.4h0.01M200.2 190.4h0.01M156.8 186.8h0.01M155.4 235.9h0.01M194.3 243h0.01M171.5 196h0.01M154.1 141h0.01M187.3 185h0.01M179.1 162h0.01M158.9 145.5h0.01M192.7 171.2h0.01M191.4 137.5h0.01M181.4 183.2h0.01M174.2 155.1h0.01M182 236h0.01M194.5 187.7h0.01M177.6 231.5h0.01M197.8 144.6h0.01M158.2 212.5h0.01M201.1 199.9h0.01M161.5 180.7h0.01M200.1 195.4h0.01M171.8 152.7h0.01M162.2 231.2h0.01M197 191.5h0.01M167.3 170.7h0.01M193.1 132.9h0.01M168.4 144.9h0.01M163.9 159.3h0.01M170.8 191.8h0.01M151.4 225.7h0.01M201.2 190.2h0.01M156.3 158.4h0.01M161.5 156.6h0.01M201.5 237.7h0.01M202.5 170.1h0.01M194.5 147.5h0.01M177.8 145.3h0.01M179 231h0.01M156.7 204h0.01M187.6 172.3h0.01M184.7 165.8h0.01M199.3 245.7h0.01M175.2 198.8h0.01M174.1 175h0.01M169.2 202.4h0.01M163 175.1h0.01M185 153.5h0.01M173.7 192.8h0.01M185 176.6h0.01M164.7 198h0.01M204.6 212.7h0.01M192.1 150.1h0.01M201.6 233.2h0.01M201.5 182.2h0.01M193.2 230.3h0.01M195.9 224.4h0.01M189.4 167.1h0.01M195.7 170.4h0.01M167.7 154.3h0.01M183.9 221.1h0.01M204.7 230.5h0.01M181.3 158.4h0.01M157 240.5h0.01M170.2 152h0.01M202.3 242.2h0.01" stroke="#d0fff0" stroke-width="1" stroke-linecap="round" stroke-opacity="0.35" fill="none"/>
<path d="M78.5 446.4h0.01M73.1 455.4h0.01M80.7 527.4h0.01M106.9 452.5h0.01M74.9 538.1h0.01M108.1 478.2h0.01M108.3 455.1h0.01M99.7 527h0.01M77.4 481.4h0.01M75.5 450.1h0.01M108.2 533.4h0.01M95.4 482.3h0.01M91.4 496.7h0.01M67.4 512.1h0.01M80.7 464.6h0.01M107.8 500.6h0.01M84.7 537.4h0.01M67.1 499.8h0.01M96.3 485.4h0.01M98.4 462.5h0.01M90.4 503.8h0.01M69.9 490.7h0.01M90 455.1h0.01M105.5 457.6h0.01M79.4 460h0.01M99.6 486.5h0.01M101.2 495.9h0.01M84.6 446.2h0.01M72.8 487.3h0.01M73 520.5h0.01M111 448.7h0.01M108.4 444.2h0.01M90.1 535.1h0.01M89 449.6h0.01M104.8 450.9h0.01M86.1 449.4h0.01M97.2 445.6h0.01M102.5 465.9h0.01M87.2 516.5h0.01M101.6 474.8h0.01M111.5 512.4h0.01M80.2 442.9h0.01M78.1 528.9h0.01M74 547.2h0.01M74.2 518h0.01M80.5 451.2h0.01M69.1 458.3h0.01M80.3 462.9h0.01M93.5 442.8h0.01M106.1 435.6h0.01M74.8 531.4h0.01M106.1 496h0.01M70.3 533.9h0.01M95.6 507.4h0.01M87.7 486.6h0.01M69.4 532.1h0.01M71.8 493.3h0.01M87.8 459.6h0.01M94.2 455h0.01M90 533.8h0.01M107.7 544.3h0.01M97.9 486.8h0.01M98.1 543.8h0.01M69.4 473.2h0.01M93.5 518.8h0.01M92 462.5h0.01M68 537.6h0.01M91.4 534.1h0.01M94.2 455.1h0.01M92.1 546.6h0.01M79.4 485.3h0.01M72.1 453.3h0.01M71.2 490h0.01M77.8 440.4h0.01M79 517.7h0.01M77.7 498.7h0.01M96.7 435.9h0.01M97.5 544.5h0.01M74.1 493.4h0.01M109.4 482.1h0.01M110.9 490.1h0.01M94.6 513.2h0.01M86.8 439.3h0.01M82.9 512.1h0.01M75.2 450.7h0.01M68.7 533.4h0.01M87.3 503h0.01M97 465.2h0.01M89.9 512.4h0.01M95.1 445.9h0.01M69 521.4h0.01M102.9 504.5h0.01M104.5 546.6h0.01M82.6 527.6h0.01M69.2 506.4h0.01M78.6 499.4h0.01M73.5 470.9h0.01M107.2 454.7h0.01M89.6 520.5h0.01M104.2 540.8h0.01M95.7 458.7h0.01M72 486.9h0.01M75.3 474.7h0.01M95.5 457.2h0.01M99.4 435.3h0.01M89.8 492.8h0.01M95.1 540.4h0.01M74.3 487.2h0.01M74.6 462h0.01M78.2 525.6h0.01M83.8 443h0.01M78.4 476h0.01" stroke="#d0fff0" stroke-width="1" stroke-linecap="round" stroke-opacity="0.35" fill="none"/>
<path d="M204.1 520.3h0.01M201.6 521.4h0.01M157.1 488.3h0.01M159.6 490h0.01M168.6 527.3h0.01M171 517h0.01M185 512h0.01M157.7 504.6h0.01M196.2 480.1h0.01M158.6 499.4h0.01M191.4 544.8h0.01M197.9 486h0.01M169.3 542.2h0.01M193.9 475.8h0.01M201.5 488.3h0.01M178.5 495.6h0.01M184.4 425.7h0.01M188.4 502.9h0.01M175.4 474.5h0.01M182.2 495.3h0.01M151.2 490.8h0.01M165.6 453.1h0.01M163.1 498.9h0.01M179.8 450.5h0.01M187.7 452.3h0.01M160 440h0.01M174 429.9h0.01M202.3 463.7h0.01M172.6 449.9h0.01M182 433.1h0.01M193.5 505.7h0.01M165.1 463h0.01M187.1 458h0.01M157.1 483.2h0.01M153 467h0.01M177.4 543h0.01M191 427.2h0.01M161.7 486.6h0.01M152.1 529.9h0.01M160.8 516.8h0.01M170.1 449.6h0.01M182.7 486.7h0.01M155.6 467.7h0.01M199 480.4h0.01M191.9 427.4h0.01M158.4 445.2h0.01M176.4 525h0.01M188.3 548.3h0.01M189.8 439.7h0.01M174.9 528.3h0.01M185.6 479.9h0.01M171.9 485.1h0.01M170.1 509.4h0.01M197.7 455.8h0.01M168.7 526h0.01M202.2 432.1h0.01M188.4 449.6h0.01M200.9 536h0.01M161.7 502.9h0.01M151.8 457.7h0.01M159.5 530.3h0.01M151.6 474.9h0.01M164.2 452.8h0.01M195.7 423.4h0.01M165.8 543.1h0.01M188.7 494h0.01M165.1 443.1h0.01M194.5 462.7h0.01M182.8 544.7h0.01M194 460.5h0.01M161 497.8h0.01M190.9 496h0.01M178.1 495.1h0.01M183.1 519.2h0.01M163.9 517.1h0.01M150.7 499.1h0.01M191.5 447h0.01M154 453.4h0.01M169.3 514.1h0.01M150.8 481.2h0.01M168.5 511.2h0.01M156.7 538.5h0.01M180.5 455.3h0.01M171.8 533.6h0.01M183.4 517.9h0.01M201.2 540.3h0.01M154.1 471.5h0.01M156.5 491.3h0.01M203 501.4h0.01M199.1 477.9h0.01M165.4 449.6h0.01M200.4 472.5h0.01M162.6 468.8h0.01M177.8 478.9h0.01M197.5 538.6h0.01M158.1 536.7h0.01M203.5 485.8h0.01M154.1 449.4h0.01M151 517.2h0.01M166.6 514.3h0.01M189.7 520.5h0.01M186.4 449.5h0.01M180.7 547.5h0.01M184.2 433.5h0.01M175 492.6h0.01M165.1 436.4h0.01M174.8 532.3h0.01M205.7 546.3h0.01M193.4 504.9h0.01M164.3 443.3h0.01M180.1 457.6h0.01M153.1 434h0.01M192.6 525.6h0.01M192.6 528.7h0.01M190.7 531.3h0.01M157.2 496.2h0.01M194.7 489.7h0.01M155.3 475.7h0.01M176.5 472.8h0.01M191.7 425.9h0.01M176 485h0.01M182.1 514.6h0.01M157.8 461.6h0.01M193.4 474.6h0.01M190.5 477.8h0.01M194.5 522.2h0.01M152.1 531.3h0.01M200.2 475.1h0.01M158.1 468.1h0.01M203.2 532.8h0.01M169.7 446h0.01M187.7 470h0.01M170.5 512.9h0.01M160.6 520.8h0.01M203.1 502.7h0.01M174.2 468.3h0.01M171.8 460h0.01M192.5 527h0.01M201.9 516.1h0.01M159 470.4h0.01M176.1 494.8h0.01M191.5 474.2h0.01M164.1 495.4h0.01M177.1 531.3h0.01M201.5 499.4h0.01M189.6 429.2h0.01M160.9 491.7h0.01" stroke="#d0fff0" stroke-width="1" stroke-linecap="round" stroke-opacity="0.35" fill="none"/>
<path d="M80 800.4h0.01M110.5 791.1h0.01M88.4 748.3h0.01M79.2 757.9h0.01M87.5 802.4h0.01M94.1 739.8h0.01M83 822.1h0.01M88.9 777.5h0.01M107.9 824.7h0.01M76.8 803.6h0.01M95.5 827.1h0.01M87.8 834.1h0.01M84.2 805.1h0.01M91.2 760.1h0.01M108.4 751.5h0.01M79.8 796.1h0.01M91 780.3h0.01M105.8 833.1h0.01M94.3 833h0.01M79.7 758.4h0.01M75.1 796.8h0.01M74.5 757h0.01M96.8 736.4h0.01M91.4 819.4h0.01M109.2 793.4h0.01M104.7 818.9h0.01M92.4 833.5h0.01M85.3 742.3h0.01M90.4 784.2h0.01M101.1 799.2h0.01M91.2 735.7h0.01M98.2 736h0.01M72.3 740.8h0.01M108.6 807.9h0.01M70.6 762h0.01M106.6 837.3h0.01M85.6 766.8h0.01M71.5 793.4h0.01M88.2 760.9h0.01M69.8 773.1h0.01M108.1 840.7h0.01M97.5 824.4h0.01M110 794h0.01M90.4 774.9h0.01M98 816.6h0.01M77.6 757.7h0.01M107.4 824.7h0.01M92.7 822.2h0.01M86.5 779h0.01M83.5 826.9h0.01M72.4 824.2h0.01M71.5 828.2h0.01M101.3 837.4h0.01M80.5 759.1h0.01M108.6 750.2h0.01M101.2 773.6h0.01M90.7 791h0.01M72.1 769h0.01M84.1 754.9h0.01M107.1 751.7h0.01M111.1 755.9h0.01M110.2 776.5h0.01M109.8 756.2h0.01M107.4 776.6h0.01M107.7 826.4h0.01M95.5 786.2h0.01M97.5 766.1h0.01M103.4 745.8h0.01M79.5 808.9h0.01M100.4 795.3h0.01M96.6 843.4h0.01M80.5 765.2h0.01M74.7 769.9h0.01M97.1 835.5h0.01M82.1 780.2h0.01M68.6 804.7h0.01M88.5 771h0.01M69.4 746.1h0.01M108.7 761h0.01M87.7 796.8h0.01M77.5 801.6h0.01M104.4 757h0.01M77.2 773.7h0.01M90.3 831.5h0.01M107.8 748.2h0.01M97.3 794.6h0.01M78.8 831.5h0.01M98 782.3h0.01M91 811.9h0.01M81.2 776.8h0.01M111.3 810.7h0.01M105.8 738.4h0.01M103 827.8h0.01M66.5 819.7h0.01M68.5 809.3h0.01M104.3 746.3h0.01M106.1 838.4h0.01M109.3 769.4h0.01M98 827.7h0.01M72.6 824.7h0.01M89.4 818.7h0.01M86.1 742.9h0.01M71.9 817.2h0.01M92.9 768.5h0.01M80.3 779h0.01M86 763.2h0.01M67.6 788.4h0.01" stroke="#d0fff0" stroke-width="1" stroke-linecap="round" stroke-opacity="0.35" fill="none"/>
<path d="M189.9 806.6h0.01M200 838.8h0.01M173.7 804.8h0.01M177.5 792.6h0.01M178.5 788.1h0.01M164.1 829.3h0.01M184.9 769.8h0.01M201.7 821.4h0.01M197.8 752.1h0.01M167.6 827.9h0.01M193.3 772.1h0.01M194.3 790h0.01M198.7 758.3h0.01M163.3 776.7h0.01M150.9 763.9h0.01M153.6 747h0.01M177.7 726.7h0.01M166.2 800.1h0.01M188.5 816.5h0.01M166.3 835h0.01M163.7 794.7h0.01M192.3 776.7h0.01M176.2 742.3h0.01M187.3 811.6h0.01M186.4 821.5h0.01M171.8 749.1h0.01M188.5 756.7h0.01M151.7 809.4h0.01M167.5 809.3h0.01M180.1 760h0.01M185.3 811.2h0.01M184.9 752h0.01M173.8 738.4h0.01M194.2 738.3h0.01M188.2 786.3h0.01M184.6 799.6h0.01M193.4 779.4h0.01M182.4 754.9h0.01M201 732.9h0.01M163.5 757.7h0.01M188.8 816.9h0.01M192.7 729.9h0.01M174.9 729.5h0.01M193.7 809.2h0.01M182.3 807.9h0.01M161.7 769.4h0.01M158 742.9h0.01M165 752.6h0.01M175 780.5h0.01M181.6 725.9h0.01M197 823h0.01M190.3 802.2h0.01M196.1 723.7h0.01M202.1 756.7h0.01M168.4 794.8h0.01M174 820.2h0.01M187 734h0.01M163.4 824.9h0.01M188.1 823.8h0.01M175.3 806.8h0.01M189.3 783.6h0.01M173.3 802.2h0.01M173 774h0.01M187.7 833.7h0.01M195.8 805.4h0.01M158.7 828h0.01M195.8 766.6h0.01M165 810.5h0.01M169.1 770.9h0.01M192.8 777.3h0.01M154.1 762.2h0.01M200.4 802.4h0.01M181.3 838.2h0.01M159.8 765.5h0.01M184.4 802.8h0.01M164.6 794.6h0.01M163.2 817.3h0.01M168.3 814.8h0.01M194.2 780.6h0.01M179.8 782.4h0.01M150.7 806.3h0.01M181.5 841.6h0.01M174.1 782.2h0.01M200.6 778.7h0.01M192.4 744.9h0.01M168.1 840.7h0.01M150.6 823.1h0.01M179.8 783.5h0.01M201.3 761h0.01M189.5 751.2h0.01M192.8 728.5h0.01M175.9 752.4h0.01M169 794.8h0.01M191 833.7h0.01M169.9 767.6h0.01M155.1 790.8h0.01M195.5 781.7h0.01M179.3 787h0.01M183.2 739.8h0.01M185.2 810.6h0.01M176.3 821.2h0.01M152 833.4h0.01M188.6 784.6h0.01M158.6 730.3h0.01M169.1 760.8h0.01M199.7 749.8h0.01M184.6 798.4h0.01M167.9 759.9h0.01M195.8 780h0.01M159.8 815.6h0.01M153.1 792.3h0.01M178.8 776h0.01M186.4 747.7h0.01M173.6 728.3h0.01M169.3 841.2h0.01M151.5 790.1h0.01M179.8 730.5h0.01M154.8 819.9h0.01M183.3 809.1h0.01M160.5 804.1h0.01M176.3 741.4h0.01M177.3 777.2h0.01M162.6 809.3h0.01M151.7 835.6h0.01M156.7 785.6h0.01M159.1 820.2h0.01M191.2 775.9h0.01M190.3 803.1h0.01M189.1 837h0.01M153.4 830.2h0.01M175.6 763.2h0.01M157.7 770.1h0.01M187.1 811.1h0.01M162.1 802.4h0.01M160.9 837.1h0.01M189.9 726.6h0.01M161.4 765.1h0.01M179.2 744.9h0.01M195.7 731.9h0.01M156.3 753.8h0.01M194.6 820.6h0.01" stroke="#d0fff0" stroke-width="1" stroke-linecap="round" stroke-opacity="0.35" fill="none"/>
<g stroke="#50ffb0" stroke-width="0.9" stroke-dasharray="1.2 2.2" stroke-opacity="0.8" fill="none"><path d="M336 244H497V60"/><path d="M322.9 380V547.3H494V360"/><path d="M324.5 700V845H497.2V660"/><path d="M218.7 420V548" stroke="#b0fff0" stroke-opacity="0.6"/></g>
<path d="M391.9 791.9h0.01M418.5 795.3h0.01M393.7 795.8h0.01M415 801.3h0.01M415.4 800.9h0.01M396 788h0.01M417 785.1h0.01M397 794h0.01M411.3 797.6h0.01M429.6 801.2h0.01M390.7 791.5h0.01M411.7 799.4h0.01M435.6 804.4h0.01M430.1 803.6h0.01M416.9 785.5h0.01M413.3 798.5h0.01M439.3 797.2h0.01M388.4 791.8h0.01M402.9 782.3h0.01M435.6 802.9h0.01M440.4 798.8h0.01M413.9 799h0.01M408.4 791.9h0.01M400.7 799.3h0.01M390.2 784.1h0.01M399 792.5h0.01M427.7 795h0.01M414.4 786.7h0.01M422.3 787.4h0.01M401.6 791.3h0.01M396.3 794.8h0.01M425.7 799.5h0.01M408.1 791.5h0.01M414.3 797.4h0.01M437.3 801.5h0.01M431.6 804.3h0.01M430.3 805h0.01M413.7 798.7h0.01M431.9 793.1h0.01M415.3 790h0.01M429.8 794h0.01M389.7 796.9h0.01M393.7 789h0.01M418.7 796.9h0.01M428.2 794.7h0.01M423.4 800.6h0.01M401.3 784h0.01M415.9 795.6h0.01M412.2 795.5h0.01M432.1 800.2h0.01M434.1 803.4h0.01M423 800.6h0.01M417.6 796.7h0.01M389.2 793.8h0.01M413.9 793.5h0.01M413.1 784.7h0.01" stroke="#d8f000" stroke-width="1" stroke-linecap="round" stroke-opacity="0.35" fill="none"/>
<defs>
<filter id="bl" x="-20%" y="-20%" width="140%" height="140%"><feGaussianBlur stdDeviation="0.6"/></filter>
<filter id="bm" x="-20%" y="-20%" width="140%" height="140%"><feGaussianBlur stdDeviation="1.1"/></filter>
<filter id="bx" x="-50%" y="-50%" width="200%" height="200%"><feGaussianBlur stdDeviation="4"/></filter>
<filter id="bh" x="-30%" y="-30%" width="160%" height="160%"><feGaussianBlur stdDeviation="2"/></filter>
<pattern id="stripeA" patternUnits="userSpaceOnUse" width="3" height="3" patternTransform="rotate(-30)"><rect width="3" height="3" fill="#ffa000"/><rect width="3" height="1" fill="#ff8000"/></pattern>
<clipPath id="ca"><path d="M148.5 58.4L152 57L156 55.5L160 54L164 52.5L168 50.8L172 49.3L176 48.5L179.5 48.2L183 49.2L186 50.5L190 52L194 53.4L198 54.6L202 55.3L206 55.6L210 55.7L210 56.3L206 56.6L201.4 57.3L197.5 58.3L194 59.4L190.5 61L187 62.9L183.5 64.9L180 67L176 69.3L172.3 71.5L168.5 73.2L165 74.4L161 75.5L158 74.5L155 72L152 68.5L150 64.5L148.5 60Z"/></clipPath>
<clipPath id="cb"><path d="M139 361L147 356.9L155.8 354L163.1 352.2L170.4 351.1L176 350.4L184.5 349.4L191.8 350.6L199.1 352L206 353.1L211 353.8L213 360L204 372L196 384L186 394L174 399L162 401L152 398L145 390L140 376L138 366Z"/></clipPath>
<clipPath id="cc"><path d="M134 656.3L140 655.2L147.5 654.1L160 652.4L174.4 650.7L188 650.2L201.3 650.3L208 651L214 652.2L214 690L200 704L190 714L176 720L160 722L146 718L138 706L134 690Z"/></clipPath>
</defs>

<!-- ===== panel a ===== -->
<path d="M100 54.8Q118 55.6 126 57.6Q133 60 140 59.7Q146 59.3 149 58.3L150 54L100 54Z" fill="#fff"/>
<g clip-path="url(#ca)">
 <rect x="145" y="45" width="70" height="32" fill="#00f79c"/>
 <g filter="url(#bl)">
  <path d="M165 50L184 45L212 55L207 57.2L201.4 58L194 60.2L187 63.8L180 68L172.3 72.6L165 76Z" fill="#ffa000"/>
  <path d="M166 56L172 50L180 47L186 49L184.6 52L176 57.6L167 63Z" fill="#ff7c00"/>
  <path d="M168 61L172 58L176 56L174 60L169 63Z" fill="#ff6a00" opacity="0.7"/>
  <path d="M186 58L192 55L196 56L190 59Z" fill="#ff8800" opacity="0.7"/>
  <path d="M164 75.5L172.3 71.8L180 67.4L187 63.2L194 59.6L201.4 57.4L208 56.5" fill="none" stroke="#90ff40" stroke-width="1.6"/>
  <path d="M165 73.6L172.3 70.4L180 66L187 61.9L194 58.4L201.4 56.3L207 55.8" fill="none" stroke="#eef200" stroke-width="2"/>
  <path d="M175 48.4Q183 48.6 190 51.8T207 55.5" fill="none" stroke="#ff4c00" stroke-width="2.2"/>
  <path d="M183 51.2Q190 53.4 197 55.4" fill="none" stroke="#ffe0c0" stroke-width="0.6" opacity="0.7"/>
  <path d="M146 58.5L171.5 48.6L167.5 55.5L165 60L159 62L151 64Z" fill="#0050ff"/>
  <path d="M147 58.6L171.5 49L170.5 51.8L159 56.5L150 60.5Z" fill="#0000e0"/>
  <path d="M155 58L163 55L162 58.5L156 60Z" fill="#0010ee"/>
  <path d="M148 59L152 57.6L153.6 61.5L150 62.5Z" fill="#00b0ff"/>
  <path d="M166.8 51.4L171 49.8L168.8 57.2L165.4 58.6Z" fill="#00f0e8"/>
  <path d="M170.6 50L173.6 49.1L171.8 56L168.8 57.2Z" fill="#e0f400" opacity="0.85"/>
  <path d="M148 60L152 64L155 69L150 68Z" fill="#00f79c"/>
  <circle cx="154.2" cy="68.2" r="1.6" fill="#f2f000"/>
  <circle cx="157.8" cy="71.2" r="1.4" fill="#00e8ff"/>
  <circle cx="161.3" cy="72.4" r="1.7" fill="#0038ff"/>
  <circle cx="164.6" cy="71.2" r="1.4" fill="#ffc000"/>
  <circle cx="169.2" cy="67.4" r="3" fill="#ff1800"/>
  <circle cx="168.9" cy="67.5" r="1.3" fill="#0010d8"/>
  <circle cx="172.6" cy="67.4" r="1.4" fill="#ffd000"/>
 </g>
</g>

<!-- ===== panel b ===== -->
<path d="M95 354Q115 355.4 126 357.6Q133 359.2 139 358.6Q144 358 147 356.9L155.8 354L156 353L95 353Z" fill="#fff"/>
<g clip-path="url(#cb)">
 <rect x="135" y="345" width="80" height="60" fill="#00f79c"/>
 <g filter="url(#bh)">
  <path d="M180 349L211 353.5L205 366L196 380L185 393L172 393Z" fill="#30f040"/>
 </g>
 <g filter="url(#bm)">
  <path d="M178 349L204 352.5L199 362L191 375L180 390L169 388Z" fill="#a8f000"/>
  <path d="M176 349.5L198 351.2L195 357L189 367L182 378L172 388L165 378Z" fill="#e8f200"/>
  <path d="M141 368L180 365L183 375L172 386L150 384L143 376Z" fill="#e8f000"/>
  <path d="M140 361L180 349.5L186 351L182 360L176 369L160 372L143 372Z" fill="#00f5f0"/>
  <path d="M141 360L178 349.5L182 352L177 360L168 365.5L152 366L143 365Z" fill="#00aaff"/>
  <ellipse cx="160.5" cy="358.3" rx="19" ry="6" fill="#0050ff" transform="rotate(-8 160.5 358.3)"/>
  <path d="M143 359.5L150 356.6L156 354.6L164 352.6L172 351.4" fill="none" stroke="#0030f0" stroke-width="3"/>
  <ellipse cx="161" cy="356.4" rx="15" ry="4.2" fill="#0000e0" transform="rotate(-10 161 356.4)"/>
  <path d="M145 377Q160 372 180 376L182 385L172 395L156 395L147 387Z" fill="#ffa400"/>
  <path d="M147 380Q158 376 175 379L178 387L168 393L155 393L148 386Z" fill="#ff6000"/>
  <path d="M148 381L156 379L154 387L150 387Z" fill="#ff2000"/>
  <path d="M166 380L174 381L176 387L169 389Z" fill="#ff2000"/>
  <circle cx="164" cy="378.5" r="1.2" fill="#ff1000"/>
  <circle cx="171" cy="391" r="1.2" fill="#ff3000"/>
 </g>
 <g filter="url(#bl)">
  <circle cx="161" cy="376.3" r="1.3" fill="#00e8ff"/>
  <circle cx="156" cy="377" r="1.2" fill="#ffe800"/>
  <circle cx="166" cy="376.5" r="1.1" fill="#ff8000"/>
  <circle cx="157.6" cy="393.2" r="1.6" fill="#0030ff"/>
  <circle cx="161.6" cy="397.4" r="1.6" fill="#0030ff"/>
  <circle cx="163.6" cy="393.4" r="1.4" fill="#00aaff"/>
  <circle cx="154.6" cy="391" r="1.3" fill="#00ffee"/>
  <circle cx="151" cy="389" r="1.2" fill="#ffd000"/>
  <circle cx="178" cy="388" r="2" fill="#ffc000"/>
 </g>
</g>

<!-- ===== panel c ===== -->
<path d="M95 653.2Q115 654.2 126 655.6Q131 656.4 137 655.8L140 655.2L147.5 654.2L160 652.5L174.4 651.2L188 650.5L201.3 650.4L208 651L218.9 652L218.9 640L95 640Z" fill="#fff"/>
<g clip-path="url(#cc)">
 <rect x="130" y="645" width="90" height="80" fill="#00f79c"/>
 <g filter="url(#bh)">
  <path d="M187 650L205 650L205 664L200 674L193 670L187 660Z" fill="#30ee50" opacity="0.85"/>
  <path d="M141 656L182 650L188 660L184 674L170 684L150 684L143 672Z" fill="#00f4f0"/>
  <path d="M141 656L184 650L184 660L176 666L150 667L143 664Z" fill="#00b4ff"/>
 </g>
 <g filter="url(#bm)">
  <path d="M142 655L162 652L180 650.6L181 656L174 661.5L160 662.5L145 661.5Z" fill="#0090ff"/>
  <path d="M144 654.6L162 652.2L174 651.2L172 656L160 658.5L147 658.5Z" fill="#0070ff"/>
 </g>
 <g filter="url(#bm)">
  <path d="M143 690L152 688L157 697L157 708L150 712L144 704Z" fill="#e0f000"/>
  <path d="M165 694L176 690L186 696L186 706L178 712L166 710Z" fill="#f0e800"/>
  <path d="M168 698L178 696L182 704L176 709L168 707Z" fill="#ffa000"/>
  <path d="M150 698L156 698L156 706L151 707Z" fill="#ffb000"/>
 </g>
 <g filter="url(#bl)">
  <circle cx="161" cy="704.6" r="8.3" fill="none" stroke="#0018e0" stroke-width="1.8" stroke-dasharray="2.6 1.6"/>
  <circle cx="161" cy="704.6" r="10.4" fill="none" stroke="#00ddff" stroke-width="1.2" stroke-dasharray="1.5 2.5"/>
  <circle cx="152" cy="707.5" r="1.3" fill="#ff4000"/>
  <circle cx="171.5" cy="703" r="1.5" fill="#ff2000"/>
  <circle cx="175" cy="707" r="1.2" fill="#ff6000"/>
  <circle cx="168" cy="712" r="1.2" fill="#ff8000"/>
  <circle cx="148" cy="700" r="1.1" fill="#ffd000"/>
 </g>
</g>
<g filter="url(#bl)">
 <ellipse cx="125" cy="844.2" rx="2.4" ry="0.9" fill="#ff3000"/>
 <ellipse cx="125.8" cy="842.2" rx="1.3" ry="0.8" fill="#00ffee"/>
 <circle cx="128.6" cy="842.6" r="0.7" fill="#c0f000"/>
 <circle cx="129" cy="844.6" r="0.7" fill="#00c0ff"/>
</g>
<!-- ===== panel d ===== -->
<g filter="url(#bl)">
 <circle cx="435.6" cy="133.8" r="6.8" fill="none" stroke="#40ffb0" stroke-width="2" opacity="0.35"/>
 <path d="M429 129A7 7 0 0 1 441 128" fill="none" stroke="#40ffc0" stroke-width="1.6" opacity="0.6"/>
 <path d="M430 140A7 7 0 0 0 440 140.5" fill="none" stroke="#30ffd0" stroke-width="1.6" opacity="0.7"/>
 <circle cx="435" cy="126" r="1.3" fill="#00ffee"/>
 <circle cx="431" cy="141.5" r="1.2" fill="#00ffee"/>
 <circle cx="434" cy="142.5" r="1.4" fill="#00f0ff"/>
 <circle cx="441" cy="140.5" r="1.0" fill="#00e8ff"/>
 <circle cx="442.6" cy="138.4" r="1.4" fill="#0010ff"/>
 <circle cx="438.1" cy="141.4" r="1.1" fill="#0030ff"/>
 <circle cx="440.5" cy="138.8" r="0.7" fill="#ff0040"/>
</g>
<g fill="#001010">
 <circle cx="426.3" cy="128.1" r="0.95"/><circle cx="432.1" cy="125.5" r="0.95"/>
 <circle cx="439.7" cy="125.5" r="0.95"/><circle cx="443.2" cy="128.1" r="0.95"/>
 <circle cx="425.9" cy="131.6" r="0.95"/><circle cx="427.2" cy="135.4" r="0.95"/>
 <circle cx="444.8" cy="135.2" r="0.95"/><circle cx="428.7" cy="140.5" r="0.95"/>
 <circle cx="430.9" cy="142.6" r="0.95"/><circle cx="436.8" cy="143.9" r="0.95"/>
 <circle cx="443.2" cy="141.5" r="0.95"/>
</g>
<g filter="url(#bl)"><circle cx="435.6" cy="133.8" r="3.9" fill="#fff"/></g>
<circle cx="435.6" cy="133.8" r="3" fill="#fff"/>

<!-- ===== panel e ===== -->
<g filter="url(#bl)">
 <circle cx="426" cy="451" r="1.3" fill="#e8f000"/>
 <circle cx="424.5" cy="452.5" r="1.0" fill="#e8f000"/>
 <circle cx="446" cy="451" r="1.4" fill="#e8f000"/>
 <circle cx="448" cy="455" r="1.1" fill="#e8f000"/>
 <circle cx="447" cy="461" r="1.2" fill="#e8f000"/>
 <circle cx="443" cy="463" r="1.0" fill="#ffe000"/>
 <circle cx="426" cy="462" r="1.0" fill="#e8f000"/>
 <circle cx="436" cy="445.5" r="1.6" fill="#00ffe0"/>
 <circle cx="433" cy="447" r="1.2" fill="#00ffe0"/>
 <circle cx="433.5" cy="449.5" r="1.8" fill="#00b0ff"/>
 <circle cx="437" cy="450" r="1.2" fill="#00ffee"/>
 <circle cx="432.5" cy="465" r="1.9" fill="#00a0ff"/>
 <circle cx="436.5" cy="465.5" r="1.6" fill="#00e8ff"/>
 <circle cx="442.5" cy="456.5" r="1.8" fill="#ff1000"/>
 <circle cx="443.2" cy="458" r="1.0" fill="#4000c0"/>
 <circle cx="444" cy="460" r="1.0" fill="#ffe000"/>
 <circle cx="440.5" cy="452.5" r="1.0" fill="#ff8000"/>
 <path d="M425.5 457.5L429.5 455L429.5 460Z" fill="#ffaa00"/>
</g>
<g filter="url(#bl)"><circle cx="434.5" cy="457.2" r="3.3" fill="#fff"/></g>

<!-- ===== panel f ===== -->
<g filter="url(#bx)">
 <ellipse cx="414" cy="792" rx="26" ry="9" fill="#b0ff00" opacity="0.4" transform="rotate(10 414 792)"/>
</g>
<g filter="url(#bl)">
 <circle cx="441" cy="798.5" r="1.3" fill="#00ffe8"/>
 <circle cx="437" cy="801" r="1.5" fill="#00a0ff"/>
 <circle cx="439.6" cy="801.6" r="1.6" fill="#0010e0"/>
 <circle cx="431" cy="801.5" r="1.0" fill="#e8f000"/>
 <circle cx="430" cy="804" r="1.0" fill="#00ffee"/>
 <circle cx="429" cy="808" r="1.0" fill="#e8f000"/>
 <circle cx="444.5" cy="809.5" r="1.2" fill="#ffd000"/>
 <circle cx="445" cy="812.5" r="1.0" fill="#ffaa00"/>
 <circle cx="436" cy="817.5" r="1.3" fill="#00ffe8"/>
 <circle cx="439.5" cy="817" r="1.1" fill="#00e8ff"/>
 <circle cx="442.7" cy="818" r="1.5" fill="#f00010"/>
 <circle cx="438" cy="821.5" r="1.3" fill="#00f0ff"/>
 <circle cx="436" cy="822" r="1.0" fill="#00ffee"/>
 <circle cx="433" cy="818" r="1.0" fill="#e8f000"/>
 <circle cx="442" cy="822.5" r="1.1" fill="#ff9000"/>
 <circle cx="446" cy="815" r="0.9" fill="#e8f000"/>
 <circle cx="448" cy="801" r="0.9" fill="#e8f000"/>
</g>
<g filter="url(#bl)"><circle cx="436.8" cy="809.5" r="3.3" fill="#fff"/></g>

<path d="M162.8 707.9h0.01M142.6 692.4h0.01M149.6 700.2h0.01M159.6 708.1h0.01M162.7 703.7h0.01M146.8 687.1h0.01M184.1 697.1h0.01M167 708.7h0.01M151.8 692.7h0.01M172.3 715.3h0.01M168 712.5h0.01M150.2 688.2h0.01M145.1 697.3h0.01M162.2 695.8h0.01M160 700.9h0.01M177.1 714.3h0.01M152.5 693.9h0.01M179.6 689.2h0.01M185.8 702.9h0.01M169.2 716.8h0.01M168.4 701.9h0.01M189.3 695.8h0.01M149.2 691h0.01M177.6 711h0.01M171.8 708.5h0.01M141.2 687.9h0.01M176.1 708.6h0.01M166.1 709.5h0.01M187.1 694h0.01M167.2 710.1h0.01M147.7 712.6h0.01M151.8 708.1h0.01M150.7 715.3h0.01M175.7 716h0.01M186.2 692.9h0.01M170.4 708.7h0.01M180.9 711.8h0.01M174.5 702h0.01M177.7 707h0.01M161.4 709.1h0.01M162.9 695.9h0.01M150.1 713.8h0.01M188.1 703h0.01M146.4 708.8h0.01M148.4 699.7h0.01M151 696.9h0.01M143.1 703.8h0.01M143.2 697.3h0.01M142.8 692.6h0.01M184.1 692.7h0.01M182.5 708.3h0.01M167.8 701h0.01M178.1 694h0.01M175.5 707.5h0.01M178.6 696.9h0.01M187.3 696.6h0.01M149 711.8h0.01M144.7 701.2h0.01M187.3 692h0.01M151.8 711.3h0.01M144.4 695.5h0.01M167.1 709.8h0.01M164.3 694.1h0.01M156.4 717.4h0.01M145 687.5h0.01M152 714.2h0.01M146.8 695.4h0.01M165.2 699h0.01M145 688.4h0.01M163.5 696.7h0.01M161.4 716.3h0.01M183.4 706.6h0.01M149.5 706.1h0.01M150.9 688.2h0.01M164.3 706.1h0.01M186.7 695.2h0.01M187.6 703.6h0.01M150.6 706.1h0.01" stroke="#f0f000" stroke-width="1.4" stroke-linecap="round" stroke-opacity="0.85" fill="none"/><path d="M178.3 698.1h0.01M155.6 707h0.01M159.1 698.5h0.01M176.6 715.5h0.01M171.3 714.3h0.01M152.9 707.8h0.01M176.5 693.9h0.01M174.3 694.8h0.01M146.5 709.5h0.01M144.6 687.4h0.01M142 695.5h0.01M175.9 698.8h0.01M154.6 715.6h0.01M178.7 693.4h0.01M159.3 711h0.01M163.9 716.4h0.01M174.5 695.4h0.01M152 709.6h0.01M167.7 695.5h0.01M145.1 690.9h0.01M174.5 696.5h0.01M183.6 694.3h0.01M147.9 690.2h0.01M159.7 716.4h0.01M180.3 691.7h0.01M183.8 696.6h0.01M166 695.5h0.01M156.1 699.7h0.01M143.3 698.9h0.01M158.4 713.1h0.01M178 703h0.01M154.8 697h0.01M145.3 706.8h0.01M171.7 702.3h0.01M156.5 700.5h0.01M163.5 704.3h0.01M153.1 699.9h0.01M153.3 707.9h0.01M164 701.3h0.01M153 705.1h0.01M167.7 715.1h0.01M143.8 695.1h0.01M146.7 712.4h0.01M188.9 696.1h0.01M164.9 710.9h0.01M168.2 711.7h0.01M181.7 711.8h0.01M163.8 694.6h0.01M157.8 712.3h0.01M164.1 717.8h0.01M185 702.5h0.01" stroke="#ffb000" stroke-width="1.4" stroke-linecap="round" stroke-opacity="0.85" fill="none"/><path d="M150.3 695.5h0.01M142.4 691h0.01M176.1 698h0.01M154.9 714.7h0.01M181.8 689.9h0.01M161.8 707.9h0.01M174 698h0.01M166.8 696.5h0.01M176.7 700.5h0.01M179.7 697.2h0.01M148.8 691.2h0.01M148.7 703h0.01M145.6 705.6h0.01M141.7 698h0.01M153.4 704.8h0.01M139.9 693.3h0.01M181 698.6h0.01M165.8 695.3h0.01M187.9 691.2h0.01M174.1 706.3h0.01M153.2 713.5h0.01M140.6 691.6h0.01M166.3 701.2h0.01M170.9 700h0.01M159.8 705.6h0.01M186.2 700h0.01M152.5 694.8h0.01M157.7 704.7h0.01M181.7 701.8h0.01M154.2 713.6h0.01" stroke="#ff5000" stroke-width="1.4" stroke-linecap="round" stroke-opacity="0.85" fill="none"/><path d="M178.5 712.7h0.01M146.2 691.9h0.01M141.9 695.2h0.01M148.5 708.7h0.01M162.1 712.9h0.01M147.4 688.5h0.01M146.2 704.5h0.01M147.1 700h0.01M183 696.6h0.01M171.6 702.1h0.01M160.2 702.8h0.01M140.2 698.2h0.01M152.2 704.1h0.01M161.3 695h0.01M172.8 704.1h0.01M180.2 708.6h0.01M183.2 702.8h0.01M168.6 709.7h0.01M167 699.8h0.01M171.1 703h0.01" stroke="#00f0ff" stroke-width="1.4" stroke-linecap="round" stroke-opacity="0.85" fill="none"/><path d="M173.7 707.9h0.01M163.2 702.4h0.01M156.6 717.2h0.01M184.4 690.6h0.01M166.3 697h0.01M153.7 708.4h0.01M152.7 709.4h0.01M178.4 701.4h0.01M169 707.9h0.01M146.7 714.2h0.01M161.4 716.5h0.01M172.7 698.3h0.01M176.1 694.9h0.01M144 703.9h0.01M175.4 702.8h0.01M176.7 711.2h0.01M168.6 697.6h0.01M154 695.4h0.01M188.7 691.2h0.01M144.5 700.4h0.01M160.2 708.5h0.01M149.2 714.7h0.01M157.7 704.9h0.01M178.9 705.2h0.01M162.6 715.4h0.01M144.4 700.9h0.01M169.6 712.4h0.01M145.2 688.3h0.01M170.6 699.1h0.01M149.5 708.6h0.01M169.1 702.3h0.01M187.1 698.2h0.01M158.1 706.4h0.01M158.1 703.9h0.01M176.4 699.3h0.01M142 706.8h0.01M151.9 705.4h0.01M162.3 698.2h0.01M149.8 712.5h0.01" stroke="#c0f040" stroke-width="1.4" stroke-linecap="round" stroke-opacity="0.85" fill="none"/>
<path d="M151.6 390.8h0.01M169.5 389.6h0.01M160.3 381.4h0.01M162.8 388h0.01M169.9 392.1h0.01M161.1 397.8h0.01M179.5 385.2h0.01M154.4 386h0.01M164.2 381.5h0.01M160.8 379.6h0.01M151.7 386h0.01M173.7 385.9h0.01M170.4 381.4h0.01M180.9 387.3h0.01M178.9 377.4h0.01M163.2 382h0.01M149 392.7h0.01M174.5 391.6h0.01M159.6 399.1h0.01M164.4 380.9h0.01M172.3 378.1h0.01M170.1 382.8h0.01M181.4 381h0.01M162.6 382.8h0.01M165.9 384h0.01M161.3 392.3h0.01M174 383.1h0.01" stroke="#ffd000" stroke-width="1.3" stroke-linecap="round" stroke-opacity="0.8" fill="none"/><path d="M173.1 390.6h0.01M166.1 390.9h0.01M176.8 392.6h0.01M166.2 379.5h0.01M165.4 393.9h0.01M153.9 390.1h0.01M162.4 389.4h0.01M177.4 391.3h0.01M182 386.7h0.01M160.8 393.8h0.01M154.1 386.7h0.01M152.5 395h0.01M156.5 381.3h0.01M163.1 390.4h0.01M167.1 390.4h0.01M151.1 384.1h0.01M172.2 384.1h0.01M163.9 396.3h0.01M162.7 386.8h0.01M173.3 381.9h0.01M175.8 378h0.01M177.3 388.2h0.01M173.5 380.6h0.01M165.1 382.8h0.01M175.3 376.9h0.01M159.2 390.9h0.01M160 383h0.01M180.1 381.8h0.01M152 384.8h0.01M149.6 391.5h0.01" stroke="#ff3000" stroke-width="1.3" stroke-linecap="round" stroke-opacity="0.8" fill="none"/><path d="M149.5 384h0.01M153.1 383.1h0.01M153.7 387.2h0.01M177.5 387.1h0.01M170.2 387.4h0.01M156.4 394.7h0.01M154.8 383.7h0.01M174.3 395.5h0.01M179.9 382.4h0.01M152.6 381.3h0.01M152.5 385.6h0.01M182.3 384h0.01M160.2 397.7h0.01M176.7 381.8h0.01" stroke="#ff8000" stroke-width="1.3" stroke-linecap="round" stroke-opacity="0.8" fill="none"/><path d="M166.1 385.6h0.01M159 379.2h0.01M156.7 389.4h0.01M182.9 386.5h0.01M159.9 396.6h0.01" stroke="#00e0ff" stroke-width="1.3" stroke-linecap="round" stroke-opacity="0.8" fill="none"/>
<path d="M187.3 54.3h0.01M184.7 55.5h0.01M183.2 56.8h0.01M177.5 61.1h0.01M181.4 56.8h0.01M170.1 60.5h0.01M187.9 56.4h0.01M180.2 61.1h0.01M173.2 60.1h0.01M191.8 58.1h0.01M183.6 52.4h0.01M195.5 57h0.01M185.6 54.1h0.01M176.1 56.7h0.01M178.4 58.8h0.01M188.8 58h0.01M190.7 57.2h0.01M171.2 59.6h0.01M176.6 64.7h0.01M174.8 57.6h0.01M192.9 57.7h0.01M190.8 56.4h0.01M183.2 62.3h0.01M178.2 56.6h0.01M171.1 62h0.01M183.1 54.6h0.01M170 60.2h0.01M176.8 65.8h0.01" stroke="#ff7000" stroke-width="1.1" stroke-linecap="round" stroke-opacity="0.7" fill="none"/><path d="M176 59h0.01M177.3 62.4h0.01M173.8 58.9h0.01M179.1 58.3h0.01M195.8 57.4h0.01M184.7 59.6h0.01M181.4 54.6h0.01M175.7 60.8h0.01M183.3 55.7h0.01M177.2 63.6h0.01M168.7 67h0.01M178.4 58.2h0.01M168.9 60.8h0.01M185.2 60.5h0.01M187.3 57h0.01M182.3 63.3h0.01M178.8 58.4h0.01M188.2 59.7h0.01" stroke="#ffc000" stroke-width="1.1" stroke-linecap="round" stroke-opacity="0.7" fill="none"/><path d="M170.9 61.2h0.01M178.5 65h0.01M169 63.7h0.01M189.4 57.7h0.01M172.7 67.1h0.01M177.7 55.8h0.01" stroke="#ff5000" stroke-width="1.1" stroke-linecap="round" stroke-opacity="0.7" fill="none"/>
<circle cx="161.3" cy="64.7" r="4.85" fill="#fff" stroke="#f00000" stroke-width="2.7"/>
<path d="M149 58.4L154.4 66.2" stroke="#000" stroke-width="1.5" fill="none" stroke-linecap="round"/>
<path d="M166.3 63.5L168 63.2L184.4 51.9" stroke="#000" stroke-width="1.5" fill="none" stroke-linecap="round"/>
<circle cx="160.8" cy="385.3" r="4.8" fill="#fff" stroke="#f00000" stroke-width="2.6"/>
<path d="M139.8 360.8Q141.4 371 145.5 378.5Q150 385.5 155.5 387.8" stroke="#000" stroke-width="1.5" fill="none" stroke-linecap="round"/>
<path d="M168.4 380.8L182.4 366L188.2 358.5Q190.6 356 191.6 354.2" stroke="#000" stroke-width="1.5" fill="none" stroke-linecap="round"/>
<path d="M160.1 390.8L160.4 396.4" stroke="#000" stroke-width="1.2" fill="none"/>
<circle cx="161" cy="704.6" r="4.85" fill="#fff" stroke="#f00000" stroke-width="2.6"/>
<path d="M137.6 655.6Q138.8 668 140.8 676Q143.5 687 147 694Q151 702 156.4 706.4" stroke="#000" stroke-width="1.5" fill="none" stroke-linecap="round"/>
<path d="M167.9 702.1Q170 698.5 173.3 696.7Q178 694.5 182 692.5Q192 686 197.3 677Q201 670 202.4 664L202.7 649.8" stroke="#000" stroke-width="1.5" fill="none" stroke-linecap="round"/>
<path d="M159.7 708.5L159.7 715.3" stroke="#000" stroke-width="1.4" fill="none"/>
<circle cx="434.5" cy="457.2" r="4.6" fill="#fff" stroke="#ffae00" stroke-width="2.6"/>
<circle cx="436.8" cy="809.5" r="4.65" fill="#fff" stroke="#ffae00" stroke-width="2.6"/>
<line x1="54.05" y1="259.1" x2="54.05" y2="252.6" class="mj"/>
<line x1="70.5" y1="259.1" x2="70.5" y2="255.9" class="mn"/>
<line x1="86.95" y1="259.1" x2="86.95" y2="255.9" class="mn"/>
<line x1="103.4" y1="259.1" x2="103.4" y2="255.9" class="mn"/>
<line x1="119.85" y1="259.1" x2="119.85" y2="255.9" class="mn"/>
<line x1="136.3" y1="259.1" x2="136.3" y2="252.6" class="mj"/>
<line x1="152.75" y1="259.1" x2="152.75" y2="255.9" class="mn"/>
<line x1="169.2" y1="259.1" x2="169.2" y2="255.9" class="mn"/>
<line x1="185.65" y1="259.1" x2="185.65" y2="255.9" class="mn"/>
<line x1="202.1" y1="259.1" x2="202.1" y2="255.9" class="mn"/>
<line x1="218.55" y1="259.1" x2="218.55" y2="252.6" class="mj"/>
<line x1="235" y1="259.1" x2="235" y2="255.9" class="mn"/>
<line x1="42.5" y1="246.57" x2="45.7" y2="246.57" class="mn"/>
<line x1="42.5" y1="229.1" x2="49" y2="229.1" class="mj"/>
<line x1="42.5" y1="211.63" x2="45.7" y2="211.63" class="mn"/>
<line x1="42.5" y1="194.16" x2="45.7" y2="194.16" class="mn"/>
<line x1="42.5" y1="176.69" x2="45.7" y2="176.69" class="mn"/>
<line x1="42.5" y1="159.22" x2="45.7" y2="159.22" class="mn"/>
<line x1="42.5" y1="141.75" x2="49" y2="141.75" class="mj"/>
<line x1="42.5" y1="124.28" x2="45.7" y2="124.28" class="mn"/>
<line x1="42.5" y1="106.81" x2="45.7" y2="106.81" class="mn"/>
<line x1="42.5" y1="89.34" x2="45.7" y2="89.34" class="mn"/>
<line x1="42.5" y1="71.87" x2="45.7" y2="71.87" class="mn"/>
<line x1="42.5" y1="54.4" x2="49" y2="54.4" class="mj"/>
<line x1="42.5" y1="36.93" x2="45.7" y2="36.93" class="mn"/>
<line x1="42.5" y1="19.46" x2="45.7" y2="19.46" class="mn"/>
<path d="M42.5 11.4V259.1H237.5" class="ax"/>
<text x="25.03" y="60.2" class="tl" textLength="7.55" lengthAdjust="spacingAndGlyphs">0</text>
<text x="19.48" y="144.7" class="tl" textLength="17.05" lengthAdjust="spacingAndGlyphs">0.5</text>
<text x="12.85" y="144.7" class="tl mi" textLength="7.28" lengthAdjust="spacingAndGlyphs">−</text>
<text x="22.43" y="233.4" class="tl" textLength="16.57" lengthAdjust="spacingAndGlyphs">1.0</text>
<text x="15.35" y="233.4" class="tl mi" textLength="7.28" lengthAdjust="spacingAndGlyphs">−</text>
<text x="50.39" y="274.1" class="tl" textLength="16.62" lengthAdjust="spacingAndGlyphs">0.5</text>
<text x="39.75" y="274.1" class="tl mi" textLength="7.28" lengthAdjust="spacingAndGlyphs">−</text>
<text x="136.4" y="273.6" class="tl" text-anchor="middle">0</text>
<text x="218.01" y="273.6" class="tl" text-anchor="middle">0.5</text>
<text x="167.3" y="277.8" class="vl" text-anchor="middle">x</text>
<text class="vl" text-anchor="middle" transform="translate(12.2 118.7) rotate(-90)" x="0" y="2.5">y</text>
<rect x="225.9" y="10.9" width="38.4" height="127.9" class="lb"/>
<rect x="228.5" y="24.8" width="12" height="4.8" fill="#ff0000"/>
<rect x="228.5" y="29.6" width="12" height="9.75" fill="#ff5a00"/>
<rect x="228.5" y="39.35" width="12" height="9.75" fill="#ffac00"/>
<rect x="228.5" y="49.1" width="12" height="9.75" fill="#e8fa00"/>
<rect x="228.5" y="58.85" width="12" height="9.75" fill="#00f200"/>
<rect x="228.5" y="68.6" width="12" height="9.75" fill="#00f200"/>
<rect x="228.5" y="78.35" width="12" height="9.75" fill="#00f200"/>
<rect x="228.5" y="88.1" width="12" height="9.75" fill="#00f59a"/>
<rect x="228.5" y="97.85" width="12" height="9.75" fill="#00ffee"/>
<rect x="228.5" y="107.6" width="12" height="9.75" fill="#00aaff"/>
<rect x="228.5" y="117.35" width="12" height="9.75" fill="#0050ff"/>
<rect x="228.5" y="127.1" width="12" height="4.8" fill="#0000ee"/>
<line x1="228.5" y1="29.6" x2="240.5" y2="29.6" class="bd"/>
<line x1="228.5" y1="39.35" x2="240.5" y2="39.35" class="bd"/>
<line x1="228.5" y1="49.1" x2="240.5" y2="49.1" class="bd"/>
<line x1="228.5" y1="58.85" x2="240.5" y2="58.85" class="bd"/>
<line x1="228.5" y1="68.6" x2="240.5" y2="68.6" class="bd"/>
<line x1="228.5" y1="78.35" x2="240.5" y2="78.35" class="bd"/>
<line x1="228.5" y1="88.1" x2="240.5" y2="88.1" class="bd"/>
<line x1="228.5" y1="97.85" x2="240.5" y2="97.85" class="bd"/>
<line x1="228.5" y1="107.6" x2="240.5" y2="107.6" class="bd"/>
<line x1="228.5" y1="117.35" x2="240.5" y2="117.35" class="bd"/>
<line x1="228.5" y1="127.1" x2="240.5" y2="127.1" class="bd"/>
<text x="245.6" y="17.6" class="lt" text-anchor="middle">strain</text>
<text x="248.5" y="26.6" class="lt">1</text>
<text x="248.5" y="36.3" class="lt">0.8</text>
<text x="248.5" y="46.7" class="lt">0.6</text>
<text x="248.5" y="56.7" class="lt">0.4</text>
<text x="248.5" y="66.7" class="lt">0.2</text>
<text x="248.5" y="76.3" class="lt">0</text>
<text x="244.9" y="86.3" class="lt" textLength="14.3" lengthAdjust="spacingAndGlyphs">&#8722;0.2</text>
<text x="244.9" y="97.6" class="lt" textLength="14.3" lengthAdjust="spacingAndGlyphs">&#8722;0.4</text>
<text x="244.9" y="109.5" class="lt" textLength="14.3" lengthAdjust="spacingAndGlyphs">&#8722;0.6</text>
<text x="244.9" y="121.5" class="lt" textLength="14.3" lengthAdjust="spacingAndGlyphs">&#8722;0.8</text>
<text x="244.9" y="132.5" class="lt" textLength="7.6" lengthAdjust="spacingAndGlyphs">&#8722;1</text>
<line x1="52.55" y1="562.1" x2="52.55" y2="555.6" class="mj"/>
<line x1="69.2" y1="562.1" x2="69.2" y2="558.9" class="mn"/>
<line x1="85.85" y1="562.1" x2="85.85" y2="558.9" class="mn"/>
<line x1="102.5" y1="562.1" x2="102.5" y2="558.9" class="mn"/>
<line x1="119.15" y1="562.1" x2="119.15" y2="558.9" class="mn"/>
<line x1="135.8" y1="562.1" x2="135.8" y2="555.6" class="mj"/>
<line x1="152.45" y1="562.1" x2="152.45" y2="558.9" class="mn"/>
<line x1="169.1" y1="562.1" x2="169.1" y2="558.9" class="mn"/>
<line x1="185.75" y1="562.1" x2="185.75" y2="558.9" class="mn"/>
<line x1="202.4" y1="562.1" x2="202.4" y2="558.9" class="mn"/>
<line x1="219.05" y1="562.1" x2="219.05" y2="555.6" class="mj"/>
<line x1="235.7" y1="562.1" x2="235.7" y2="558.9" class="mn"/>
<line x1="41.5" y1="548.75" x2="44.7" y2="548.75" class="mn"/>
<line x1="41.5" y1="531" x2="48" y2="531" class="mj"/>
<line x1="41.5" y1="513.25" x2="44.7" y2="513.25" class="mn"/>
<line x1="41.5" y1="495.5" x2="44.7" y2="495.5" class="mn"/>
<line x1="41.5" y1="477.75" x2="44.7" y2="477.75" class="mn"/>
<line x1="41.5" y1="460" x2="44.7" y2="460" class="mn"/>
<line x1="41.5" y1="442.25" x2="48" y2="442.25" class="mj"/>
<line x1="41.5" y1="424.5" x2="44.7" y2="424.5" class="mn"/>
<line x1="41.5" y1="406.75" x2="44.7" y2="406.75" class="mn"/>
<line x1="41.5" y1="389" x2="44.7" y2="389" class="mn"/>
<line x1="41.5" y1="371.25" x2="44.7" y2="371.25" class="mn"/>
<line x1="41.5" y1="353.5" x2="48" y2="353.5" class="mj"/>
<line x1="41.5" y1="335.75" x2="44.7" y2="335.75" class="mn"/>
<line x1="41.5" y1="318" x2="44.7" y2="318" class="mn"/>
<path d="M41.5 309.5V562.1H240.4" class="ax"/>
<text x="22.39" y="358.2" class="tl" textLength="8.02" lengthAdjust="spacingAndGlyphs">0</text>
<text x="18.96" y="447.2" class="tl" textLength="17.9" lengthAdjust="spacingAndGlyphs">0.5</text>
<text x="9.05" y="447.2" class="tl mi" textLength="7.28" lengthAdjust="spacingAndGlyphs">−</text>
<text x="18.08" y="535.7" class="tl" textLength="17.35" lengthAdjust="spacingAndGlyphs">1.0</text>
<text x="7.75" y="535.7" class="tl mi" textLength="7.28" lengthAdjust="spacingAndGlyphs">−</text>
<text x="47.28" y="576.7" class="tl" textLength="17.05" lengthAdjust="spacingAndGlyphs">0.5</text>
<text x="36.95" y="576.7" class="tl mi" textLength="7.28" lengthAdjust="spacingAndGlyphs">−</text>
<text x="135.9" y="576.6" class="tl" text-anchor="middle">0</text>
<text x="220.61" y="576.7" class="tl" text-anchor="middle">0.5</text>
<text x="166.8" y="580.1" class="vl" text-anchor="middle">x</text>
<text class="vl" text-anchor="middle" transform="translate(9.8 428) rotate(-90)" x="0" y="2.5">y</text>
<rect x="227.1" y="309.4" width="38" height="127.3" class="lb"/>
<rect x="230" y="323" width="12" height="4.8" fill="#ff0000"/>
<rect x="230" y="327.8" width="12" height="9.7" fill="#ff5a00"/>
<rect x="230" y="337.5" width="12" height="9.7" fill="#ffac00"/>
<rect x="230" y="347.2" width="12" height="9.7" fill="#e8fa00"/>
<rect x="230" y="356.9" width="12" height="9.7" fill="#00f200"/>
<rect x="230" y="366.6" width="12" height="9.7" fill="#00f200"/>
<rect x="230" y="376.3" width="12" height="9.7" fill="#00f200"/>
<rect x="230" y="386" width="12" height="9.7" fill="#00f59a"/>
<rect x="230" y="395.7" width="12" height="9.7" fill="#00ffee"/>
<rect x="230" y="405.4" width="12" height="9.7" fill="#00aaff"/>
<rect x="230" y="415.1" width="12" height="9.7" fill="#0050ff"/>
<rect x="230" y="424.8" width="12" height="4.8" fill="#0000ee"/>
<line x1="230" y1="327.8" x2="242" y2="327.8" class="bd"/>
<line x1="230" y1="337.5" x2="242" y2="337.5" class="bd"/>
<line x1="230" y1="347.2" x2="242" y2="347.2" class="bd"/>
<line x1="230" y1="356.9" x2="242" y2="356.9" class="bd"/>
<line x1="230" y1="366.6" x2="242" y2="366.6" class="bd"/>
<line x1="230" y1="376.3" x2="242" y2="376.3" class="bd"/>
<line x1="230" y1="386" x2="242" y2="386" class="bd"/>
<line x1="230" y1="395.7" x2="242" y2="395.7" class="bd"/>
<line x1="230" y1="405.4" x2="242" y2="405.4" class="bd"/>
<line x1="230" y1="415.1" x2="242" y2="415.1" class="bd"/>
<line x1="230" y1="424.8" x2="242" y2="424.8" class="bd"/>
<text x="246.6" y="316.1" class="lt" text-anchor="middle">strain</text>
<text x="250" y="324.8" class="lt">1</text>
<text x="250" y="334.5" class="lt">0.8</text>
<text x="250" y="344.9" class="lt">0.6</text>
<text x="250" y="354.9" class="lt">0.4</text>
<text x="250" y="364.9" class="lt">0.2</text>
<text x="250" y="374.5" class="lt">0</text>
<text x="246.4" y="384.5" class="lt" textLength="14.3" lengthAdjust="spacingAndGlyphs">&#8722;0.2</text>
<text x="246.4" y="395.8" class="lt" textLength="14.3" lengthAdjust="spacingAndGlyphs">&#8722;0.4</text>
<text x="246.4" y="407.7" class="lt" textLength="14.3" lengthAdjust="spacingAndGlyphs">&#8722;0.6</text>
<text x="246.4" y="419.7" class="lt" textLength="14.3" lengthAdjust="spacingAndGlyphs">&#8722;0.8</text>
<text x="246.4" y="430.7" class="lt" textLength="7.6" lengthAdjust="spacingAndGlyphs">&#8722;1</text>
<line x1="53.6" y1="856.5" x2="53.6" y2="850" class="mj"/>
<line x1="70.08" y1="856.5" x2="70.08" y2="853.3" class="mn"/>
<line x1="86.56" y1="856.5" x2="86.56" y2="853.3" class="mn"/>
<line x1="103.04" y1="856.5" x2="103.04" y2="853.3" class="mn"/>
<line x1="119.52" y1="856.5" x2="119.52" y2="853.3" class="mn"/>
<line x1="136" y1="856.5" x2="136" y2="850" class="mj"/>
<line x1="152.48" y1="856.5" x2="152.48" y2="853.3" class="mn"/>
<line x1="168.96" y1="856.5" x2="168.96" y2="853.3" class="mn"/>
<line x1="185.44" y1="856.5" x2="185.44" y2="853.3" class="mn"/>
<line x1="201.92" y1="856.5" x2="201.92" y2="853.3" class="mn"/>
<line x1="218.4" y1="856.5" x2="218.4" y2="850" class="mj"/>
<line x1="234.88" y1="856.5" x2="234.88" y2="853.3" class="mn"/>
<line x1="41.9" y1="844.01" x2="45.1" y2="844.01" class="mn"/>
<line x1="41.9" y1="826.6" x2="48.4" y2="826.6" class="mj"/>
<line x1="41.9" y1="809.19" x2="45.1" y2="809.19" class="mn"/>
<line x1="41.9" y1="791.78" x2="45.1" y2="791.78" class="mn"/>
<line x1="41.9" y1="774.37" x2="45.1" y2="774.37" class="mn"/>
<line x1="41.9" y1="756.96" x2="45.1" y2="756.96" class="mn"/>
<line x1="41.9" y1="739.55" x2="48.4" y2="739.55" class="mj"/>
<line x1="41.9" y1="722.14" x2="45.1" y2="722.14" class="mn"/>
<line x1="41.9" y1="704.73" x2="45.1" y2="704.73" class="mn"/>
<line x1="41.9" y1="687.32" x2="45.1" y2="687.32" class="mn"/>
<line x1="41.9" y1="669.91" x2="45.1" y2="669.91" class="mn"/>
<line x1="41.9" y1="652.5" x2="48.4" y2="652.5" class="mj"/>
<line x1="41.9" y1="635.09" x2="45.1" y2="635.09" class="mn"/>
<line x1="41.9" y1="617.68" x2="45.1" y2="617.68" class="mn"/>
<path d="M41.9 609.5V856.5H241" class="ax"/>
<text x="24.44" y="657.2" class="tl" textLength="7.43" lengthAdjust="spacingAndGlyphs">0</text>
<text x="21.07" y="743.1" class="tl" textLength="17.48" lengthAdjust="spacingAndGlyphs">0.5</text>
<text x="11.15" y="743.1" class="tl mi" textLength="7.28" lengthAdjust="spacingAndGlyphs">−</text>
<text x="18.78" y="832.4" class="tl" textLength="17.35" lengthAdjust="spacingAndGlyphs">1.0</text>
<text x="8.85" y="832.4" class="tl mi" textLength="7.28" lengthAdjust="spacingAndGlyphs">−</text>
<text x="50.27" y="871.1" class="tl" textLength="17.48" lengthAdjust="spacingAndGlyphs">0.5</text>
<text x="40.35" y="871.1" class="tl mi" textLength="7.28" lengthAdjust="spacingAndGlyphs">−</text>
<text x="135.5" y="871.1" class="tl" text-anchor="middle">0</text>
<text x="219.21" y="871.1" class="tl" text-anchor="middle">0.5</text>
<text x="169.5" y="873.7" class="vl" text-anchor="middle">x</text>
<text class="vl" text-anchor="middle" transform="translate(10.2 724.7) rotate(-90)" x="0" y="2.5">y</text>
<rect x="226.1" y="607.2" width="38" height="134.3" class="lb"/>
<rect x="229.1" y="622.4" width="12" height="4.8" fill="#ff0000"/>
<rect x="229.1" y="627.2" width="12" height="10.29" fill="#ff5a00"/>
<rect x="229.1" y="637.49" width="12" height="10.29" fill="#ffac00"/>
<rect x="229.1" y="647.78" width="12" height="10.29" fill="#e8fa00"/>
<rect x="229.1" y="658.07" width="12" height="10.29" fill="#00f200"/>
<rect x="229.1" y="668.36" width="12" height="10.29" fill="#00f200"/>
<rect x="229.1" y="678.65" width="12" height="10.29" fill="#00f200"/>
<rect x="229.1" y="688.94" width="12" height="10.29" fill="#00f59a"/>
<rect x="229.1" y="699.23" width="12" height="10.29" fill="#00ffee"/>
<rect x="229.1" y="709.52" width="12" height="10.29" fill="#00aaff"/>
<rect x="229.1" y="719.81" width="12" height="10.29" fill="#0050ff"/>
<rect x="229.1" y="730.1" width="12" height="4.8" fill="#0000ee"/>
<line x1="229.1" y1="627.2" x2="241.1" y2="627.2" class="bd"/>
<line x1="229.1" y1="637.49" x2="241.1" y2="637.49" class="bd"/>
<line x1="229.1" y1="647.78" x2="241.1" y2="647.78" class="bd"/>
<line x1="229.1" y1="658.07" x2="241.1" y2="658.07" class="bd"/>
<line x1="229.1" y1="668.36" x2="241.1" y2="668.36" class="bd"/>
<line x1="229.1" y1="678.65" x2="241.1" y2="678.65" class="bd"/>
<line x1="229.1" y1="688.94" x2="241.1" y2="688.94" class="bd"/>
<line x1="229.1" y1="699.23" x2="241.1" y2="699.23" class="bd"/>
<line x1="229.1" y1="709.52" x2="241.1" y2="709.52" class="bd"/>
<line x1="229.1" y1="719.81" x2="241.1" y2="719.81" class="bd"/>
<line x1="229.1" y1="730.1" x2="241.1" y2="730.1" class="bd"/>
<text x="245.6" y="613.9" class="lt" text-anchor="middle">strain</text>
<text x="249.1" y="623.2" class="lt">1</text>
<text x="249.1" y="633.3" class="lt">0.8</text>
<text x="249.1" y="643.3" class="lt">0.6</text>
<text x="249.1" y="653.2" class="lt">0.4</text>
<text x="249.1" y="663.2" class="lt">0.2</text>
<text x="249.1" y="673" class="lt">0</text>
<text x="245.5" y="683.2" class="lt" textLength="14.3" lengthAdjust="spacingAndGlyphs">&#8722;0.2</text>
<text x="245.5" y="694.3" class="lt" textLength="14.3" lengthAdjust="spacingAndGlyphs">&#8722;0.4</text>
<text x="245.5" y="705.9" class="lt" textLength="14.3" lengthAdjust="spacingAndGlyphs">&#8722;0.6</text>
<text x="245.5" y="717.9" class="lt" textLength="14.3" lengthAdjust="spacingAndGlyphs">&#8722;0.8</text>
<text x="245.5" y="729.9" class="lt" textLength="7.6" lengthAdjust="spacingAndGlyphs">&#8722;1</text>
<line x1="321" y1="259.4" x2="321" y2="252.9" class="mj"/>
<line x1="338.62" y1="259.4" x2="338.62" y2="256.2" class="mn"/>
<line x1="356.24" y1="259.4" x2="356.24" y2="256.2" class="mn"/>
<line x1="373.86" y1="259.4" x2="373.86" y2="256.2" class="mn"/>
<line x1="391.48" y1="259.4" x2="391.48" y2="256.2" class="mn"/>
<line x1="409.1" y1="259.4" x2="409.1" y2="252.9" class="mj"/>
<line x1="426.72" y1="259.4" x2="426.72" y2="256.2" class="mn"/>
<line x1="444.34" y1="259.4" x2="444.34" y2="256.2" class="mn"/>
<line x1="461.96" y1="259.4" x2="461.96" y2="256.2" class="mn"/>
<line x1="479.58" y1="259.4" x2="479.58" y2="256.2" class="mn"/>
<line x1="497.2" y1="259.4" x2="497.2" y2="252.9" class="mj"/>
<line x1="309.5" y1="244.87" x2="312.7" y2="244.87" class="mn"/>
<line x1="309.5" y1="226.9" x2="316" y2="226.9" class="mj"/>
<line x1="309.5" y1="208.93" x2="312.7" y2="208.93" class="mn"/>
<line x1="309.5" y1="190.96" x2="312.7" y2="190.96" class="mn"/>
<line x1="309.5" y1="172.99" x2="312.7" y2="172.99" class="mn"/>
<line x1="309.5" y1="155.02" x2="312.7" y2="155.02" class="mn"/>
<line x1="309.5" y1="137.05" x2="316" y2="137.05" class="mj"/>
<line x1="309.5" y1="119.08" x2="312.7" y2="119.08" class="mn"/>
<line x1="309.5" y1="101.11" x2="312.7" y2="101.11" class="mn"/>
<line x1="309.5" y1="83.14" x2="312.7" y2="83.14" class="mn"/>
<line x1="309.5" y1="65.17" x2="312.7" y2="65.17" class="mn"/>
<line x1="309.5" y1="47.2" x2="316" y2="47.2" class="mj"/>
<line x1="309.5" y1="29.23" x2="312.7" y2="29.23" class="mn"/>
<line x1="309.5" y1="11.26" x2="312.7" y2="11.26" class="mn"/>
<path d="M309.5 8.7V259.4H511.7" class="ax"/>
<text x="290.93" y="52.5" class="tl" textLength="7.55" lengthAdjust="spacingAndGlyphs">0</text>
<text x="288.2" y="141.4" class="tl" textLength="16.3" lengthAdjust="spacingAndGlyphs">0.5</text>
<text x="281.55" y="141.4" class="tl mi" textLength="7.28" lengthAdjust="spacingAndGlyphs">−</text>
<text x="288.31" y="230" class="tl" textLength="16.9" lengthAdjust="spacingAndGlyphs">1.0</text>
<text x="277.55" y="230" class="tl mi" textLength="7.28" lengthAdjust="spacingAndGlyphs">−</text>
<text x="317.67" y="273.7" class="tl" textLength="17.37" lengthAdjust="spacingAndGlyphs">0.5</text>
<text x="307.75" y="273.7" class="tl mi" textLength="7.28" lengthAdjust="spacingAndGlyphs">−</text>
<text x="409.2" y="274.4" class="tl" text-anchor="middle">0</text>
<text x="500.01" y="274.4" class="tl" text-anchor="middle">0.5</text>
<text x="445.8" y="275.7" class="vl" text-anchor="middle">x</text>
<text class="vl" text-anchor="middle" transform="translate(278.5 115.5) rotate(-90)" x="0" y="2.5">y</text>
<rect x="506" y="6" width="37.6" height="127.5" class="lb"/>
<rect x="508.3" y="20.2" width="12" height="4.8" fill="#ff0000"/>
<rect x="508.3" y="25" width="12" height="9.75" fill="#ff5a00"/>
<rect x="508.3" y="34.75" width="12" height="9.75" fill="#ffac00"/>
<rect x="508.3" y="44.5" width="12" height="9.75" fill="#e8fa00"/>
<rect x="508.3" y="54.25" width="12" height="9.75" fill="#00f200"/>
<rect x="508.3" y="64" width="12" height="9.75" fill="#00f200"/>
<rect x="508.3" y="73.75" width="12" height="9.75" fill="#00f200"/>
<rect x="508.3" y="83.5" width="12" height="9.75" fill="#00f59a"/>
<rect x="508.3" y="93.25" width="12" height="9.75" fill="#00ffee"/>
<rect x="508.3" y="103" width="12" height="9.75" fill="#00aaff"/>
<rect x="508.3" y="112.75" width="12" height="9.75" fill="#0050ff"/>
<rect x="508.3" y="122.5" width="12" height="4.8" fill="#0000ee"/>
<line x1="508.3" y1="25" x2="520.3" y2="25" class="bd"/>
<line x1="508.3" y1="34.75" x2="520.3" y2="34.75" class="bd"/>
<line x1="508.3" y1="44.5" x2="520.3" y2="44.5" class="bd"/>
<line x1="508.3" y1="54.25" x2="520.3" y2="54.25" class="bd"/>
<line x1="508.3" y1="64" x2="520.3" y2="64" class="bd"/>
<line x1="508.3" y1="73.75" x2="520.3" y2="73.75" class="bd"/>
<line x1="508.3" y1="83.5" x2="520.3" y2="83.5" class="bd"/>
<line x1="508.3" y1="93.25" x2="520.3" y2="93.25" class="bd"/>
<line x1="508.3" y1="103" x2="520.3" y2="103" class="bd"/>
<line x1="508.3" y1="112.75" x2="520.3" y2="112.75" class="bd"/>
<line x1="508.3" y1="122.5" x2="520.3" y2="122.5" class="bd"/>
<text x="525.3" y="12.7" class="lt" text-anchor="middle">strain</text>
<text x="528.3" y="22" class="lt">1</text>
<text x="528.3" y="31.7" class="lt">0.8</text>
<text x="528.3" y="42.1" class="lt">0.6</text>
<text x="528.3" y="52.1" class="lt">0.4</text>
<text x="528.3" y="62.1" class="lt">0.2</text>
<text x="528.3" y="71.7" class="lt">0</text>
<text x="524.7" y="81.7" class="lt" textLength="14.3" lengthAdjust="spacingAndGlyphs">&#8722;0.2</text>
<text x="524.7" y="93" class="lt" textLength="14.3" lengthAdjust="spacingAndGlyphs">&#8722;0.4</text>
<text x="524.7" y="104.9" class="lt" textLength="14.3" lengthAdjust="spacingAndGlyphs">&#8722;0.6</text>
<text x="524.7" y="116.9" class="lt" textLength="14.3" lengthAdjust="spacingAndGlyphs">&#8722;0.8</text>
<text x="524.7" y="127.9" class="lt" textLength="7.6" lengthAdjust="spacingAndGlyphs">&#8722;1</text>
<line x1="321.75" y1="562.2" x2="321.75" y2="555.7" class="mj"/>
<line x1="339.04" y1="562.2" x2="339.04" y2="559" class="mn"/>
<line x1="356.33" y1="562.2" x2="356.33" y2="559" class="mn"/>
<line x1="373.62" y1="562.2" x2="373.62" y2="559" class="mn"/>
<line x1="390.91" y1="562.2" x2="390.91" y2="559" class="mn"/>
<line x1="408.2" y1="562.2" x2="408.2" y2="555.7" class="mj"/>
<line x1="425.49" y1="562.2" x2="425.49" y2="559" class="mn"/>
<line x1="442.78" y1="562.2" x2="442.78" y2="559" class="mn"/>
<line x1="460.07" y1="562.2" x2="460.07" y2="559" class="mn"/>
<line x1="477.36" y1="562.2" x2="477.36" y2="559" class="mn"/>
<line x1="494.65" y1="562.2" x2="494.65" y2="555.7" class="mj"/>
<line x1="511.94" y1="562.2" x2="511.94" y2="559" class="mn"/>
<line x1="311.1" y1="547.88" x2="314.3" y2="547.88" class="mn"/>
<line x1="311.1" y1="529.7" x2="317.6" y2="529.7" class="mj"/>
<line x1="311.1" y1="511.52" x2="314.3" y2="511.52" class="mn"/>
<line x1="311.1" y1="493.34" x2="314.3" y2="493.34" class="mn"/>
<line x1="311.1" y1="475.16" x2="314.3" y2="475.16" class="mn"/>
<line x1="311.1" y1="456.98" x2="314.3" y2="456.98" class="mn"/>
<line x1="311.1" y1="438.8" x2="317.6" y2="438.8" class="mj"/>
<line x1="311.1" y1="420.62" x2="314.3" y2="420.62" class="mn"/>
<line x1="311.1" y1="402.44" x2="314.3" y2="402.44" class="mn"/>
<line x1="311.1" y1="384.26" x2="314.3" y2="384.26" class="mn"/>
<line x1="311.1" y1="366.08" x2="314.3" y2="366.08" class="mn"/>
<line x1="311.1" y1="347.9" x2="317.6" y2="347.9" class="mj"/>
<line x1="311.1" y1="329.72" x2="314.3" y2="329.72" class="mn"/>
<line x1="311.1" y1="311.54" x2="314.3" y2="311.54" class="mn"/>
<path d="M311.1 309V562.2H515.5" class="ax"/>
<text x="291.25" y="352.8" class="tl" textLength="7.19" lengthAdjust="spacingAndGlyphs">0</text>
<text x="288.36" y="442.1" class="tl" textLength="17.8" lengthAdjust="spacingAndGlyphs">0.5</text>
<text x="279.15" y="442.1" class="tl mi" textLength="7.28" lengthAdjust="spacingAndGlyphs">−</text>
<text x="287.18" y="535.8" class="tl" textLength="17.35" lengthAdjust="spacingAndGlyphs">1.0</text>
<text x="276.85" y="535.8" class="tl mi" textLength="7.28" lengthAdjust="spacingAndGlyphs">−</text>
<text x="317.67" y="577.7" class="tl" textLength="17.37" lengthAdjust="spacingAndGlyphs">0.5</text>
<text x="307.75" y="577.7" class="tl mi" textLength="7.28" lengthAdjust="spacingAndGlyphs">−</text>
<text x="408.4" y="577.3" class="tl" text-anchor="middle">0</text>
<text x="495.11" y="577.3" class="tl" text-anchor="middle">0.5</text>
<text x="443.5" y="578.8" class="vl" text-anchor="middle">x</text>
<text class="vl" text-anchor="middle" transform="translate(279.4 417.8) rotate(-90)" x="0" y="2.5">y</text>
<rect x="504.7" y="307.7" width="38.3" height="134.3" class="lb"/>
<rect x="507.5" y="323.1" width="12.3" height="4.8" fill="#ff0000"/>
<rect x="507.5" y="327.9" width="12.3" height="10.28" fill="#ff5a00"/>
<rect x="507.5" y="338.18" width="12.3" height="10.28" fill="#ffac00"/>
<rect x="507.5" y="348.46" width="12.3" height="10.28" fill="#e8fa00"/>
<rect x="507.5" y="358.74" width="12.3" height="10.28" fill="#00f200"/>
<rect x="507.5" y="369.02" width="12.3" height="10.28" fill="#00f200"/>
<rect x="507.5" y="379.3" width="12.3" height="10.28" fill="#00f200"/>
<rect x="507.5" y="389.58" width="12.3" height="10.28" fill="#00f59a"/>
<rect x="507.5" y="399.86" width="12.3" height="10.28" fill="#00ffee"/>
<rect x="507.5" y="410.14" width="12.3" height="10.28" fill="#00aaff"/>
<rect x="507.5" y="420.42" width="12.3" height="10.28" fill="#0050ff"/>
<rect x="507.5" y="430.7" width="12.3" height="4.8" fill="#0000ee"/>
<line x1="507.5" y1="327.9" x2="519.8" y2="327.9" class="bd"/>
<line x1="507.5" y1="338.18" x2="519.8" y2="338.18" class="bd"/>
<line x1="507.5" y1="348.46" x2="519.8" y2="348.46" class="bd"/>
<line x1="507.5" y1="358.74" x2="519.8" y2="358.74" class="bd"/>
<line x1="507.5" y1="369.02" x2="519.8" y2="369.02" class="bd"/>
<line x1="507.5" y1="379.3" x2="519.8" y2="379.3" class="bd"/>
<line x1="507.5" y1="389.58" x2="519.8" y2="389.58" class="bd"/>
<line x1="507.5" y1="399.86" x2="519.8" y2="399.86" class="bd"/>
<line x1="507.5" y1="410.14" x2="519.8" y2="410.14" class="bd"/>
<line x1="507.5" y1="420.42" x2="519.8" y2="420.42" class="bd"/>
<line x1="507.5" y1="430.7" x2="519.8" y2="430.7" class="bd"/>
<text x="524.35" y="314.4" class="lt" text-anchor="middle">strain</text>
<text x="527.8" y="323.9" class="lt">1</text>
<text x="527.8" y="334" class="lt">0.8</text>
<text x="527.8" y="344" class="lt">0.6</text>
<text x="527.8" y="353.9" class="lt">0.4</text>
<text x="527.8" y="363.9" class="lt">0.2</text>
<text x="527.8" y="373.7" class="lt">0</text>
<text x="524.2" y="383.9" class="lt" textLength="14.3" lengthAdjust="spacingAndGlyphs">&#8722;0.2</text>
<text x="524.2" y="395" class="lt" textLength="14.3" lengthAdjust="spacingAndGlyphs">&#8722;0.4</text>
<text x="524.2" y="406.6" class="lt" textLength="14.3" lengthAdjust="spacingAndGlyphs">&#8722;0.6</text>
<text x="524.2" y="418.6" class="lt" textLength="14.3" lengthAdjust="spacingAndGlyphs">&#8722;0.8</text>
<text x="524.2" y="430.6" class="lt" textLength="7.6" lengthAdjust="spacingAndGlyphs">&#8722;1</text>
<line x1="324.55" y1="860" x2="324.55" y2="853.5" class="mj"/>
<line x1="341.88" y1="860" x2="341.88" y2="856.8" class="mn"/>
<line x1="359.21" y1="860" x2="359.21" y2="856.8" class="mn"/>
<line x1="376.54" y1="860" x2="376.54" y2="856.8" class="mn"/>
<line x1="393.87" y1="860" x2="393.87" y2="856.8" class="mn"/>
<line x1="411.2" y1="860" x2="411.2" y2="853.5" class="mj"/>
<line x1="428.53" y1="860" x2="428.53" y2="856.8" class="mn"/>
<line x1="445.86" y1="860" x2="445.86" y2="856.8" class="mn"/>
<line x1="463.19" y1="860" x2="463.19" y2="856.8" class="mn"/>
<line x1="480.52" y1="860" x2="480.52" y2="856.8" class="mn"/>
<line x1="497.85" y1="860" x2="497.85" y2="853.5" class="mj"/>
<line x1="313.2" y1="845.2" x2="316.4" y2="845.2" class="mn"/>
<line x1="313.2" y1="827.3" x2="319.7" y2="827.3" class="mj"/>
<line x1="313.2" y1="809.4" x2="316.4" y2="809.4" class="mn"/>
<line x1="313.2" y1="791.5" x2="316.4" y2="791.5" class="mn"/>
<line x1="313.2" y1="773.6" x2="316.4" y2="773.6" class="mn"/>
<line x1="313.2" y1="755.7" x2="316.4" y2="755.7" class="mn"/>
<line x1="313.2" y1="737.8" x2="319.7" y2="737.8" class="mj"/>
<line x1="313.2" y1="719.9" x2="316.4" y2="719.9" class="mn"/>
<line x1="313.2" y1="702" x2="316.4" y2="702" class="mn"/>
<line x1="313.2" y1="684.1" x2="316.4" y2="684.1" class="mn"/>
<line x1="313.2" y1="666.2" x2="316.4" y2="666.2" class="mn"/>
<line x1="313.2" y1="648.3" x2="319.7" y2="648.3" class="mj"/>
<line x1="313.2" y1="630.4" x2="316.4" y2="630.4" class="mn"/>
<line x1="313.2" y1="612.5" x2="316.4" y2="612.5" class="mn"/>
<path d="M313.2 609.5V860H515.5" class="ax"/>
<text x="294.44" y="653.7" class="tl" textLength="7.43" lengthAdjust="spacingAndGlyphs">0</text>
<text x="289.27" y="742.4" class="tl" textLength="17.48" lengthAdjust="spacingAndGlyphs">0.5</text>
<text x="279.75" y="742.4" class="tl mi" textLength="7.28" lengthAdjust="spacingAndGlyphs">−</text>
<text x="290.4" y="832.8" class="tl" textLength="17.02" lengthAdjust="spacingAndGlyphs">1.0</text>
<text x="279.75" y="832.8" class="tl mi" textLength="7.28" lengthAdjust="spacingAndGlyphs">−</text>
<text x="319.69" y="875.4" class="tl" textLength="16.62" lengthAdjust="spacingAndGlyphs">0.5</text>
<text x="309.75" y="875.4" class="tl mi" textLength="7.28" lengthAdjust="spacingAndGlyphs">−</text>
<text x="411.4" y="875.4" class="tl" text-anchor="middle">0</text>
<text x="495.91" y="875.4" class="tl" text-anchor="middle">0.5</text>
<text x="444.6" y="877.5" class="vl" text-anchor="middle">x</text>
<text class="vl" text-anchor="middle" transform="translate(277.3 721.5) rotate(-90)" x="0" y="2.5">y</text>
<rect x="504.8" y="609" width="38.7" height="134.4" class="lb"/>
<rect x="507.7" y="624.2" width="12.1" height="4.8" fill="#ff0000"/>
<rect x="507.7" y="629" width="12.1" height="10.27" fill="#ff5a00"/>
<rect x="507.7" y="639.27" width="12.1" height="10.27" fill="#ffac00"/>
<rect x="507.7" y="649.54" width="12.1" height="10.27" fill="#e8fa00"/>
<rect x="507.7" y="659.81" width="12.1" height="10.27" fill="#00f200"/>
<rect x="507.7" y="670.08" width="12.1" height="10.27" fill="#00f200"/>
<rect x="507.7" y="680.35" width="12.1" height="10.27" fill="#00f200"/>
<rect x="507.7" y="690.62" width="12.1" height="10.27" fill="#00f59a"/>
<rect x="507.7" y="700.89" width="12.1" height="10.27" fill="#00ffee"/>
<rect x="507.7" y="711.16" width="12.1" height="10.27" fill="#00aaff"/>
<rect x="507.7" y="721.43" width="12.1" height="10.27" fill="#0050ff"/>
<rect x="507.7" y="731.7" width="12.1" height="4.8" fill="#0000ee"/>
<line x1="507.7" y1="629" x2="519.8" y2="629" class="bd"/>
<line x1="507.7" y1="639.27" x2="519.8" y2="639.27" class="bd"/>
<line x1="507.7" y1="649.54" x2="519.8" y2="649.54" class="bd"/>
<line x1="507.7" y1="659.81" x2="519.8" y2="659.81" class="bd"/>
<line x1="507.7" y1="670.08" x2="519.8" y2="670.08" class="bd"/>
<line x1="507.7" y1="680.35" x2="519.8" y2="680.35" class="bd"/>
<line x1="507.7" y1="690.62" x2="519.8" y2="690.62" class="bd"/>
<line x1="507.7" y1="700.89" x2="519.8" y2="700.89" class="bd"/>
<line x1="507.7" y1="711.16" x2="519.8" y2="711.16" class="bd"/>
<line x1="507.7" y1="721.43" x2="519.8" y2="721.43" class="bd"/>
<line x1="507.7" y1="731.7" x2="519.8" y2="731.7" class="bd"/>
<text x="524.65" y="615.7" class="lt" text-anchor="middle">strain</text>
<text x="527.8" y="625" class="lt">1</text>
<text x="527.8" y="635.1" class="lt">0.8</text>
<text x="527.8" y="645.1" class="lt">0.6</text>
<text x="527.8" y="655" class="lt">0.4</text>
<text x="527.8" y="665" class="lt">0.2</text>
<text x="527.8" y="674.8" class="lt">0</text>
<text x="524.2" y="685" class="lt" textLength="14.3" lengthAdjust="spacingAndGlyphs">&#8722;0.2</text>
<text x="524.2" y="696.1" class="lt" textLength="14.3" lengthAdjust="spacingAndGlyphs">&#8722;0.4</text>
<text x="524.2" y="707.7" class="lt" textLength="14.3" lengthAdjust="spacingAndGlyphs">&#8722;0.6</text>
<text x="524.2" y="719.7" class="lt" textLength="14.3" lengthAdjust="spacingAndGlyphs">&#8722;0.8</text>
<text x="524.2" y="731.7" class="lt" textLength="7.6" lengthAdjust="spacingAndGlyphs">&#8722;1</text>
<text class="cp" x="91.3" y="300.1" textLength="17" lengthAdjust="spacingAndGlyphs">(a)</text>
<text class="cpi" x="111" y="300.1" textLength="25.8" lengthAdjust="spacingAndGlyphs">H/D</text>
<text class="cp" x="140.1" y="300.1" textLength="12.4" lengthAdjust="spacingAndGlyphs">=</text>
<text class="cp" x="155.1" y="300.1" textLength="4.9" lengthAdjust="spacingAndGlyphs">1</text>
<text class="cp" x="88.8" y="600" textLength="18.3" lengthAdjust="spacingAndGlyphs">(b)</text>
<text class="cpi" x="109.9" y="600" textLength="27.1" lengthAdjust="spacingAndGlyphs">H/D</text>
<text class="cp" x="140.6" y="600" textLength="12.4" lengthAdjust="spacingAndGlyphs">=</text>
<text class="cp" x="155.1" y="600" textLength="7.4" lengthAdjust="spacingAndGlyphs">3</text>
<text class="cp" x="93.8" y="896.3" textLength="17.5" lengthAdjust="spacingAndGlyphs">(c)</text>
<text class="cpi" x="113.6" y="896.3" textLength="26.4" lengthAdjust="spacingAndGlyphs">H/D</text>
<text class="cp" x="143.6" y="896.3" textLength="13.2" lengthAdjust="spacingAndGlyphs">=</text>
<text class="cp" x="159.6" y="896.3" textLength="7.3" lengthAdjust="spacingAndGlyphs">5</text>
<text class="cp" x="357.6" y="304.9" textLength="18.9" lengthAdjust="spacingAndGlyphs">(d)</text>
<text class="cpi" x="379.2" y="304.9" textLength="27.9" lengthAdjust="spacingAndGlyphs">H/D</text>
<text class="cp" x="410.2" y="304.9" textLength="12.6" lengthAdjust="spacingAndGlyphs">=</text>
<text class="cp" x="425.9" y="304.9" textLength="7" lengthAdjust="spacingAndGlyphs">8</text>
<text class="cp" x="349.3" y="606.4" textLength="17.6" lengthAdjust="spacingAndGlyphs">(e)</text>
<text class="cpi" x="368.9" y="606.4" textLength="30.5" lengthAdjust="spacingAndGlyphs">H/D</text>
<text class="cp" x="401.1" y="606.4" textLength="12.7" lengthAdjust="spacingAndGlyphs">=</text>
<text class="cp" x="416.6" y="606.4" textLength="14.7" lengthAdjust="spacingAndGlyphs">10</text>
<text class="cp" x="357.4" y="897.2" textLength="17.8" lengthAdjust="spacingAndGlyphs">(f)</text>
<text class="cpi" x="377.6" y="897.2" textLength="29.6" lengthAdjust="spacingAndGlyphs">H/D</text>
<text class="cp" x="408.9" y="897.2" textLength="13" lengthAdjust="spacingAndGlyphs">=</text>
<text class="cp" x="423.6" y="897.2" textLength="14.7" lengthAdjust="spacingAndGlyphs">15</text>
</svg>
</body></html>
